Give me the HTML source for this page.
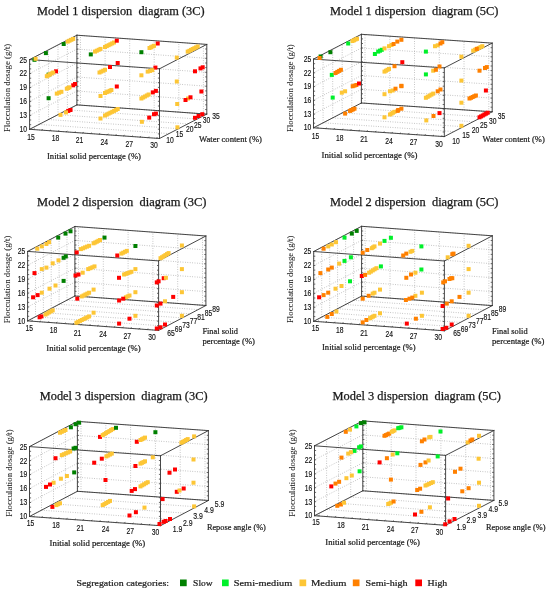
<!DOCTYPE html>
<html><head><meta charset="utf-8"><style>
html,body{margin:0;padding:0;background:#fff;}
svg{display:block;}
.gd{stroke:#8a8a8a;stroke-width:0.6;stroke-dasharray:0.8 1.6;fill:none;}
.bx{stroke:#333;stroke-width:0.9;fill:none;stroke-linecap:round;}
.tk{stroke:#444;stroke-width:0.8;fill:none;}
</style></head><body>
<svg width="550" height="593" viewBox="0 0 550 593">
<rect width="550" height="593" fill="#fff"/>
<line x1="80.5" y1="105.2" x2="80.5" y2="35.5" class="gd"/>
<line x1="105.1" y1="106.9" x2="105.1" y2="37.2" class="gd"/>
<line x1="129.7" y1="108.6" x2="129.7" y2="38.9" class="gd"/>
<line x1="154.2" y1="110.4" x2="154.2" y2="40.7" class="gd"/>
<line x1="178.8" y1="112.1" x2="178.8" y2="42.4" class="gd"/>
<line x1="203.4" y1="113.9" x2="203.4" y2="44.2" class="gd"/>
<line x1="76.9" y1="104.9" x2="206.8" y2="114.1" class="gd"/>
<line x1="76.9" y1="91.0" x2="206.8" y2="100.2" class="gd"/>
<line x1="76.9" y1="77.0" x2="206.8" y2="86.2" class="gd"/>
<line x1="76.9" y1="63.1" x2="206.8" y2="72.3" class="gd"/>
<line x1="76.9" y1="49.1" x2="206.8" y2="58.3" class="gd"/>
<line x1="76.9" y1="35.2" x2="206.8" y2="44.4" class="gd"/>
<line x1="29.6" y1="129.3" x2="29.6" y2="59.6" class="gd"/>
<line x1="39.1" y1="124.4" x2="39.1" y2="54.7" class="gd"/>
<line x1="48.5" y1="119.5" x2="48.5" y2="49.8" class="gd"/>
<line x1="58.0" y1="114.7" x2="58.0" y2="45.0" class="gd"/>
<line x1="67.4" y1="109.8" x2="67.4" y2="40.1" class="gd"/>
<line x1="76.9" y1="104.9" x2="76.9" y2="35.2" class="gd"/>
<line x1="29.6" y1="129.3" x2="76.9" y2="104.9" class="gd"/>
<line x1="29.6" y1="115.4" x2="76.9" y2="91.0" class="gd"/>
<line x1="29.6" y1="101.4" x2="76.9" y2="77.0" class="gd"/>
<line x1="29.6" y1="87.5" x2="76.9" y2="63.1" class="gd"/>
<line x1="29.6" y1="73.5" x2="76.9" y2="49.1" class="gd"/>
<line x1="29.6" y1="59.6" x2="76.9" y2="35.2" class="gd"/>
<line x1="29.6" y1="129.3" x2="159.5" y2="138.5" class="gd"/>
<line x1="39.1" y1="124.4" x2="169.0" y2="133.6" class="gd"/>
<line x1="48.5" y1="119.5" x2="178.4" y2="128.7" class="gd"/>
<line x1="58.0" y1="114.7" x2="187.9" y2="123.9" class="gd"/>
<line x1="67.4" y1="109.8" x2="197.3" y2="119.0" class="gd"/>
<line x1="76.9" y1="104.9" x2="206.8" y2="114.1" class="gd"/>
<line x1="29.6" y1="129.3" x2="29.6" y2="59.6" class="bx"/>
<line x1="76.9" y1="104.9" x2="76.9" y2="35.2" class="bx"/>
<line x1="159.5" y1="138.5" x2="159.5" y2="68.8" class="bx"/>
<line x1="206.8" y1="114.1" x2="206.8" y2="44.4" class="bx"/>
<line x1="29.6" y1="129.3" x2="76.9" y2="104.9" class="bx"/>
<line x1="29.6" y1="59.6" x2="76.9" y2="35.2" class="bx"/>
<line x1="159.5" y1="138.5" x2="206.8" y2="114.1" class="bx"/>
<line x1="159.5" y1="68.8" x2="206.8" y2="44.4" class="bx"/>
<line x1="29.6" y1="129.3" x2="159.5" y2="138.5" class="bx"/>
<line x1="29.6" y1="59.6" x2="159.5" y2="68.8" class="bx"/>
<line x1="76.9" y1="104.9" x2="206.8" y2="114.1" class="bx"/>
<line x1="76.9" y1="35.2" x2="206.8" y2="44.4" class="bx"/>
<line x1="33.2" y1="129.6" x2="34.6" y2="128.8" class="tk"/>
<line x1="41.4" y1="130.1" x2="42.8" y2="129.4" class="tk"/>
<line x1="49.6" y1="130.7" x2="51.0" y2="130.0" class="tk"/>
<line x1="57.8" y1="131.3" x2="59.2" y2="130.6" class="tk"/>
<line x1="66.0" y1="131.9" x2="67.4" y2="131.1" class="tk"/>
<line x1="74.2" y1="132.5" x2="75.6" y2="131.7" class="tk"/>
<line x1="82.4" y1="133.0" x2="83.8" y2="132.3" class="tk"/>
<line x1="90.6" y1="133.6" x2="92.0" y2="132.9" class="tk"/>
<line x1="98.7" y1="134.2" x2="100.2" y2="133.5" class="tk"/>
<line x1="106.9" y1="134.8" x2="108.4" y2="134.0" class="tk"/>
<line x1="115.1" y1="135.4" x2="116.6" y2="134.6" class="tk"/>
<line x1="123.3" y1="135.9" x2="124.7" y2="135.2" class="tk"/>
<line x1="131.5" y1="136.5" x2="132.9" y2="135.8" class="tk"/>
<line x1="139.7" y1="137.1" x2="141.1" y2="136.4" class="tk"/>
<line x1="147.9" y1="137.7" x2="149.3" y2="136.9" class="tk"/>
<line x1="156.1" y1="138.3" x2="157.5" y2="137.5" class="tk"/>
<line x1="29.6" y1="124.7" x2="31.2" y2="124.7" class="tk"/>
<line x1="76.9" y1="100.3" x2="78.5" y2="100.3" class="tk"/>
<line x1="206.8" y1="109.5" x2="205.2" y2="109.5" class="tk"/>
<line x1="159.5" y1="133.9" x2="157.9" y2="133.9" class="tk"/>
<line x1="29.6" y1="120.0" x2="31.2" y2="120.0" class="tk"/>
<line x1="76.9" y1="95.6" x2="78.5" y2="95.6" class="tk"/>
<line x1="206.8" y1="104.8" x2="205.2" y2="104.8" class="tk"/>
<line x1="159.5" y1="129.2" x2="157.9" y2="129.2" class="tk"/>
<line x1="29.6" y1="115.4" x2="31.2" y2="115.4" class="tk"/>
<line x1="76.9" y1="91.0" x2="78.5" y2="91.0" class="tk"/>
<line x1="206.8" y1="100.2" x2="205.2" y2="100.2" class="tk"/>
<line x1="159.5" y1="124.6" x2="157.9" y2="124.6" class="tk"/>
<line x1="29.6" y1="110.7" x2="31.2" y2="110.7" class="tk"/>
<line x1="76.9" y1="86.3" x2="78.5" y2="86.3" class="tk"/>
<line x1="206.8" y1="95.5" x2="205.2" y2="95.5" class="tk"/>
<line x1="159.5" y1="119.9" x2="157.9" y2="119.9" class="tk"/>
<line x1="29.6" y1="106.1" x2="31.2" y2="106.1" class="tk"/>
<line x1="76.9" y1="81.7" x2="78.5" y2="81.7" class="tk"/>
<line x1="206.8" y1="90.9" x2="205.2" y2="90.9" class="tk"/>
<line x1="159.5" y1="115.3" x2="157.9" y2="115.3" class="tk"/>
<line x1="29.6" y1="101.4" x2="31.2" y2="101.4" class="tk"/>
<line x1="76.9" y1="77.0" x2="78.5" y2="77.0" class="tk"/>
<line x1="206.8" y1="86.2" x2="205.2" y2="86.2" class="tk"/>
<line x1="159.5" y1="110.6" x2="157.9" y2="110.6" class="tk"/>
<line x1="29.6" y1="96.8" x2="31.2" y2="96.8" class="tk"/>
<line x1="76.9" y1="72.4" x2="78.5" y2="72.4" class="tk"/>
<line x1="206.8" y1="81.6" x2="205.2" y2="81.6" class="tk"/>
<line x1="159.5" y1="106.0" x2="157.9" y2="106.0" class="tk"/>
<line x1="29.6" y1="92.1" x2="31.2" y2="92.1" class="tk"/>
<line x1="76.9" y1="67.7" x2="78.5" y2="67.7" class="tk"/>
<line x1="206.8" y1="76.9" x2="205.2" y2="76.9" class="tk"/>
<line x1="159.5" y1="101.3" x2="157.9" y2="101.3" class="tk"/>
<line x1="29.6" y1="87.5" x2="31.2" y2="87.5" class="tk"/>
<line x1="76.9" y1="63.1" x2="78.5" y2="63.1" class="tk"/>
<line x1="206.8" y1="72.3" x2="205.2" y2="72.3" class="tk"/>
<line x1="159.5" y1="96.7" x2="157.9" y2="96.7" class="tk"/>
<line x1="29.6" y1="82.8" x2="31.2" y2="82.8" class="tk"/>
<line x1="76.9" y1="58.4" x2="78.5" y2="58.4" class="tk"/>
<line x1="206.8" y1="67.6" x2="205.2" y2="67.6" class="tk"/>
<line x1="159.5" y1="92.0" x2="157.9" y2="92.0" class="tk"/>
<line x1="29.6" y1="78.2" x2="31.2" y2="78.2" class="tk"/>
<line x1="76.9" y1="53.8" x2="78.5" y2="53.8" class="tk"/>
<line x1="206.8" y1="63.0" x2="205.2" y2="63.0" class="tk"/>
<line x1="159.5" y1="87.4" x2="157.9" y2="87.4" class="tk"/>
<line x1="29.6" y1="73.5" x2="31.2" y2="73.5" class="tk"/>
<line x1="76.9" y1="49.1" x2="78.5" y2="49.1" class="tk"/>
<line x1="206.8" y1="58.3" x2="205.2" y2="58.3" class="tk"/>
<line x1="159.5" y1="82.7" x2="157.9" y2="82.7" class="tk"/>
<line x1="29.6" y1="68.9" x2="31.2" y2="68.9" class="tk"/>
<line x1="76.9" y1="44.5" x2="78.5" y2="44.5" class="tk"/>
<line x1="206.8" y1="53.7" x2="205.2" y2="53.7" class="tk"/>
<line x1="159.5" y1="78.1" x2="157.9" y2="78.1" class="tk"/>
<line x1="29.6" y1="64.2" x2="31.2" y2="64.2" class="tk"/>
<line x1="76.9" y1="39.8" x2="78.5" y2="39.8" class="tk"/>
<line x1="206.8" y1="49.0" x2="205.2" y2="49.0" class="tk"/>
<line x1="159.5" y1="73.4" x2="157.9" y2="73.4" class="tk"/>
<rect x="32.5" y="57.8" width="4.0" height="4.0" fill="#008000"/>
<rect x="33.6" y="56.8" width="4.0" height="4.0" fill="#fdc636"/>
<rect x="43.9" y="51.1" width="4.0" height="4.0" fill="#008000"/>
<rect x="61.7" y="42.0" width="4.0" height="4.0" fill="#008000"/>
<rect x="65.7" y="39.6" width="4.0" height="4.0" fill="#fdc636"/>
<rect x="67.5" y="38.7" width="4.0" height="4.0" fill="#fdc636"/>
<rect x="69.4" y="37.8" width="4.0" height="4.0" fill="#fdc636"/>
<rect x="71.2" y="36.9" width="4.0" height="4.0" fill="#fdc636"/>
<rect x="88.8" y="52.4" width="4.0" height="4.0" fill="#008000"/>
<rect x="93.0" y="49.6" width="4.0" height="4.0" fill="#fdc636"/>
<rect x="94.8" y="48.7" width="4.0" height="4.0" fill="#fdc636"/>
<rect x="96.7" y="47.8" width="4.0" height="4.0" fill="#fdc636"/>
<rect x="98.5" y="46.9" width="4.0" height="4.0" fill="#fdc636"/>
<rect x="103.0" y="45.0" width="4.0" height="4.0" fill="#fdc636"/>
<rect x="104.8" y="44.1" width="4.0" height="4.0" fill="#fdc636"/>
<rect x="106.6" y="43.2" width="4.0" height="4.0" fill="#fdc636"/>
<rect x="108.4" y="42.3" width="4.0" height="4.0" fill="#fdc636"/>
<rect x="110.2" y="41.4" width="4.0" height="4.0" fill="#fdc636"/>
<rect x="112.0" y="40.5" width="4.0" height="4.0" fill="#fdc636"/>
<rect x="114.8" y="38.7" width="4.0" height="4.0" fill="#ff0000"/>
<rect x="115.7" y="61.0" width="4.0" height="4.0" fill="#ff0000"/>
<rect x="108.0" y="65.0" width="4.0" height="4.0" fill="#ff0000"/>
<rect x="97.5" y="70.5" width="4.0" height="4.0" fill="#fdc636"/>
<rect x="99.3" y="69.6" width="4.0" height="4.0" fill="#fdc636"/>
<rect x="101.2" y="68.7" width="4.0" height="4.0" fill="#fdc636"/>
<rect x="103.0" y="67.8" width="4.0" height="4.0" fill="#fdc636"/>
<rect x="54.0" y="69.3" width="4.0" height="4.0" fill="#ff0000"/>
<rect x="46.6" y="72.6" width="4.0" height="4.0" fill="#008000"/>
<rect x="44.8" y="74.2" width="4.0" height="4.0" fill="#fdc636"/>
<rect x="46.4" y="73.3" width="4.0" height="4.0" fill="#fdc636"/>
<rect x="48.0" y="72.3" width="4.0" height="4.0" fill="#fdc636"/>
<rect x="49.6" y="71.4" width="4.0" height="4.0" fill="#fdc636"/>
<rect x="51.2" y="70.5" width="4.0" height="4.0" fill="#fdc636"/>
<rect x="71.2" y="83.3" width="4.0" height="4.0" fill="#ff0000"/>
<rect x="73.0" y="82.0" width="4.0" height="4.0" fill="#ff0000"/>
<rect x="114.8" y="84.5" width="4.0" height="4.0" fill="#ff0000"/>
<rect x="64.8" y="86.7" width="4.0" height="4.0" fill="#fdc636"/>
<rect x="66.2" y="86.0" width="4.0" height="4.0" fill="#fdc636"/>
<rect x="67.5" y="85.3" width="4.0" height="4.0" fill="#fdc636"/>
<rect x="155.7" y="41.5" width="4.0" height="4.0" fill="#ff0000"/>
<rect x="147.5" y="46.0" width="4.0" height="4.0" fill="#fdc636"/>
<rect x="149.0" y="45.3" width="4.0" height="4.0" fill="#fdc636"/>
<rect x="150.5" y="44.5" width="4.0" height="4.0" fill="#fdc636"/>
<rect x="152.0" y="43.8" width="4.0" height="4.0" fill="#fdc636"/>
<rect x="139.4" y="50.2" width="4.0" height="4.0" fill="#008000"/>
<rect x="185.7" y="49.6" width="4.0" height="4.0" fill="#fdc636"/>
<rect x="187.4" y="48.8" width="4.0" height="4.0" fill="#fdc636"/>
<rect x="189.0" y="47.9" width="4.0" height="4.0" fill="#fdc636"/>
<rect x="190.7" y="47.0" width="4.0" height="4.0" fill="#fdc636"/>
<rect x="192.4" y="46.2" width="4.0" height="4.0" fill="#fdc636"/>
<rect x="194.0" y="45.4" width="4.0" height="4.0" fill="#fdc636"/>
<rect x="195.7" y="44.5" width="4.0" height="4.0" fill="#fdc636"/>
<rect x="174.8" y="55.6" width="4.0" height="4.0" fill="#fdc636"/>
<rect x="153.4" y="65.6" width="4.0" height="4.0" fill="#ff0000"/>
<rect x="145.7" y="69.6" width="4.0" height="4.0" fill="#fdc636"/>
<rect x="148.0" y="68.9" width="4.0" height="4.0" fill="#fdc636"/>
<rect x="150.3" y="68.2" width="4.0" height="4.0" fill="#fdc636"/>
<rect x="139.4" y="73.3" width="4.0" height="4.0" fill="#fdc636"/>
<rect x="193.0" y="69.3" width="4.0" height="4.0" fill="#ff0000"/>
<rect x="198.5" y="66.4" width="4.0" height="4.0" fill="#ff0000"/>
<rect x="200.7" y="65.3" width="4.0" height="4.0" fill="#ff0000"/>
<rect x="174.8" y="79.5" width="4.0" height="4.0" fill="#fdc636"/>
<rect x="54.8" y="91.6" width="4.0" height="4.0" fill="#fdc636"/>
<rect x="57.1" y="90.7" width="4.0" height="4.0" fill="#fdc636"/>
<rect x="59.4" y="89.8" width="4.0" height="4.0" fill="#fdc636"/>
<rect x="46.6" y="96.2" width="4.0" height="4.0" fill="#008000"/>
<rect x="103.0" y="91.0" width="4.0" height="4.0" fill="#fdc636"/>
<rect x="104.6" y="90.2" width="4.0" height="4.0" fill="#fdc636"/>
<rect x="106.2" y="89.5" width="4.0" height="4.0" fill="#fdc636"/>
<rect x="107.8" y="88.8" width="4.0" height="4.0" fill="#fdc636"/>
<rect x="109.4" y="88.0" width="4.0" height="4.0" fill="#fdc636"/>
<rect x="98.5" y="94.0" width="4.0" height="4.0" fill="#fdc636"/>
<rect x="66.3" y="108.9" width="4.0" height="4.0" fill="#ff0000"/>
<rect x="68.5" y="108.0" width="4.0" height="4.0" fill="#ff0000"/>
<rect x="64.0" y="110.4" width="4.0" height="4.0" fill="#fdc636"/>
<rect x="58.5" y="112.9" width="4.0" height="4.0" fill="#fdc636"/>
<rect x="103.0" y="113.5" width="4.0" height="4.0" fill="#fdc636"/>
<rect x="104.8" y="112.6" width="4.0" height="4.0" fill="#fdc636"/>
<rect x="106.6" y="111.6" width="4.0" height="4.0" fill="#fdc636"/>
<rect x="108.4" y="110.7" width="4.0" height="4.0" fill="#fdc636"/>
<rect x="110.3" y="109.8" width="4.0" height="4.0" fill="#fdc636"/>
<rect x="112.1" y="108.9" width="4.0" height="4.0" fill="#fdc636"/>
<rect x="113.9" y="107.9" width="4.0" height="4.0" fill="#fdc636"/>
<rect x="115.7" y="107.0" width="4.0" height="4.0" fill="#fdc636"/>
<rect x="98.5" y="116.5" width="4.0" height="4.0" fill="#fdc636"/>
<rect x="150.8" y="90.4" width="4.0" height="4.0" fill="#ff0000"/>
<rect x="153.9" y="88.9" width="4.0" height="4.0" fill="#ff0000"/>
<rect x="139.4" y="96.5" width="4.0" height="4.0" fill="#fdc636"/>
<rect x="141.2" y="95.5" width="4.0" height="4.0" fill="#fdc636"/>
<rect x="143.0" y="94.5" width="4.0" height="4.0" fill="#fdc636"/>
<rect x="144.8" y="93.5" width="4.0" height="4.0" fill="#fdc636"/>
<rect x="146.6" y="92.5" width="4.0" height="4.0" fill="#fdc636"/>
<rect x="199.4" y="89.5" width="4.0" height="4.0" fill="#ff0000"/>
<rect x="186.0" y="96.5" width="4.0" height="4.0" fill="#fdc636"/>
<rect x="183.5" y="98.0" width="4.0" height="4.0" fill="#ff0000"/>
<rect x="188.5" y="95.3" width="4.0" height="4.0" fill="#ff0000"/>
<rect x="175.2" y="102.0" width="4.0" height="4.0" fill="#fdc636"/>
<rect x="152.0" y="112.2" width="4.0" height="4.0" fill="#ff0000"/>
<rect x="153.9" y="111.6" width="4.0" height="4.0" fill="#ff0000"/>
<rect x="147.2" y="115.6" width="4.0" height="4.0" fill="#ff0000"/>
<rect x="139.9" y="119.8" width="4.0" height="4.0" fill="#fdc636"/>
<rect x="193.0" y="115.8" width="4.0" height="4.0" fill="#ff0000"/>
<rect x="196.6" y="114.0" width="4.0" height="4.0" fill="#ff0000"/>
<rect x="200.3" y="112.2" width="4.0" height="4.0" fill="#ff0000"/>
<rect x="175.4" y="125.3" width="4.0" height="4.0" fill="#fdc636"/>
<text x="23.3" y="62.5" font-size="8.3" font-family="'Liberation Sans', sans-serif" text-anchor="middle" textLength="7.5" lengthAdjust="spacingAndGlyphs" fill="#111" stroke="#111" stroke-width="0.15">25</text>
<text x="23.3" y="76.4" font-size="8.3" font-family="'Liberation Sans', sans-serif" text-anchor="middle" textLength="7.5" lengthAdjust="spacingAndGlyphs" fill="#111" stroke="#111" stroke-width="0.15">22</text>
<text x="23.3" y="90.3" font-size="8.3" font-family="'Liberation Sans', sans-serif" text-anchor="middle" textLength="7.5" lengthAdjust="spacingAndGlyphs" fill="#111" stroke="#111" stroke-width="0.15">19</text>
<text x="23.3" y="104.1" font-size="8.3" font-family="'Liberation Sans', sans-serif" text-anchor="middle" textLength="7.5" lengthAdjust="spacingAndGlyphs" fill="#111" stroke="#111" stroke-width="0.15">16</text>
<text x="23.3" y="118.0" font-size="8.3" font-family="'Liberation Sans', sans-serif" text-anchor="middle" textLength="7.5" lengthAdjust="spacingAndGlyphs" fill="#111" stroke="#111" stroke-width="0.15">13</text>
<text x="23.3" y="131.9" font-size="8.3" font-family="'Liberation Sans', sans-serif" text-anchor="middle" textLength="7.5" lengthAdjust="spacingAndGlyphs" fill="#111" stroke="#111" stroke-width="0.15">10</text>
<text x="31.0" y="139.6" font-size="8.3" font-family="'Liberation Sans', sans-serif" text-anchor="middle" textLength="7.5" lengthAdjust="spacingAndGlyphs" fill="#111" stroke="#111" stroke-width="0.15">15</text>
<text x="55.5" y="141.4" font-size="8.3" font-family="'Liberation Sans', sans-serif" text-anchor="middle" textLength="7.5" lengthAdjust="spacingAndGlyphs" fill="#111" stroke="#111" stroke-width="0.15">18</text>
<text x="79.6" y="143.4" font-size="8.3" font-family="'Liberation Sans', sans-serif" text-anchor="middle" textLength="7.5" lengthAdjust="spacingAndGlyphs" fill="#111" stroke="#111" stroke-width="0.15">21</text>
<text x="104.3" y="145.2" font-size="8.3" font-family="'Liberation Sans', sans-serif" text-anchor="middle" textLength="7.5" lengthAdjust="spacingAndGlyphs" fill="#111" stroke="#111" stroke-width="0.15">24</text>
<text x="129.3" y="146.7" font-size="8.3" font-family="'Liberation Sans', sans-serif" text-anchor="middle" textLength="7.5" lengthAdjust="spacingAndGlyphs" fill="#111" stroke="#111" stroke-width="0.15">27</text>
<text x="154.0" y="147.9" font-size="8.3" font-family="'Liberation Sans', sans-serif" text-anchor="middle" textLength="7.5" lengthAdjust="spacingAndGlyphs" fill="#111" stroke="#111" stroke-width="0.15">30</text>
<text x="170.0" y="143.4" font-size="8.3" font-family="'Liberation Sans', sans-serif" text-anchor="middle" textLength="7.5" lengthAdjust="spacingAndGlyphs" fill="#111" stroke="#111" stroke-width="0.15">10</text>
<text x="179.5" y="137.4" font-size="8.3" font-family="'Liberation Sans', sans-serif" text-anchor="middle" textLength="7.5" lengthAdjust="spacingAndGlyphs" fill="#111" stroke="#111" stroke-width="0.15">15</text>
<text x="189.8" y="131.9" font-size="8.3" font-family="'Liberation Sans', sans-serif" text-anchor="middle" textLength="7.5" lengthAdjust="spacingAndGlyphs" fill="#111" stroke="#111" stroke-width="0.15">20</text>
<text x="197.7" y="127.9" font-size="8.3" font-family="'Liberation Sans', sans-serif" text-anchor="middle" textLength="7.5" lengthAdjust="spacingAndGlyphs" fill="#111" stroke="#111" stroke-width="0.15">25</text>
<text x="206.4" y="123.4" font-size="8.3" font-family="'Liberation Sans', sans-serif" text-anchor="middle" textLength="7.5" lengthAdjust="spacingAndGlyphs" fill="#111" stroke="#111" stroke-width="0.15">30</text>
<text x="216.0" y="118.9" font-size="8.3" font-family="'Liberation Sans', sans-serif" text-anchor="middle" textLength="7.5" lengthAdjust="spacingAndGlyphs" fill="#111" stroke="#111" stroke-width="0.15">35</text>
<text x="37.0" y="14.9" font-size="11.5" font-family="'Liberation Serif', serif" textLength="167.5" lengthAdjust="spacingAndGlyphs" fill="#1a1a1a" stroke="#1a1a1a" stroke-width="0.25">Model 1 dispersion&#160; diagram (3C)</text>
<text x="47.0" y="159.0" font-size="9" font-family="'Liberation Serif', serif" textLength="94.0" lengthAdjust="spacingAndGlyphs" fill="#1a1a1a" stroke="#1a1a1a" stroke-width="0.22">Initial solid percentage (%)</text>
<text x="199.0" y="141.9" font-size="9" font-family="'Liberation Serif', serif" textLength="63.0" lengthAdjust="spacingAndGlyphs" fill="#1a1a1a" stroke="#1a1a1a" stroke-width="0.22">Water content (%)</text>
<text transform="translate(9.9,132) rotate(-90)" font-size="8.0" font-family="'Liberation Serif', serif" textLength="88.3" lengthAdjust="spacingAndGlyphs" fill="#1a1a1a" stroke="#1a1a1a" stroke-width="0.05">Flocculation dosage (g/t)</text>
<line x1="365.0" y1="103.2" x2="365.0" y2="34.5" class="gd"/>
<line x1="389.8" y1="104.9" x2="389.8" y2="36.2" class="gd"/>
<line x1="414.5" y1="106.6" x2="414.5" y2="37.9" class="gd"/>
<line x1="439.3" y1="108.2" x2="439.3" y2="39.5" class="gd"/>
<line x1="464.0" y1="109.9" x2="464.0" y2="41.2" class="gd"/>
<line x1="488.8" y1="111.6" x2="488.8" y2="42.9" class="gd"/>
<line x1="361.4" y1="103.0" x2="492.2" y2="111.8" class="gd"/>
<line x1="361.4" y1="89.3" x2="492.2" y2="98.1" class="gd"/>
<line x1="361.4" y1="75.5" x2="492.2" y2="84.3" class="gd"/>
<line x1="361.4" y1="61.8" x2="492.2" y2="70.6" class="gd"/>
<line x1="361.4" y1="48.0" x2="492.2" y2="56.8" class="gd"/>
<line x1="361.4" y1="34.3" x2="492.2" y2="43.1" class="gd"/>
<line x1="313.5" y1="127.8" x2="313.5" y2="59.1" class="gd"/>
<line x1="323.1" y1="122.8" x2="323.1" y2="54.1" class="gd"/>
<line x1="332.7" y1="117.9" x2="332.7" y2="49.2" class="gd"/>
<line x1="342.2" y1="112.9" x2="342.2" y2="44.2" class="gd"/>
<line x1="351.8" y1="108.0" x2="351.8" y2="39.3" class="gd"/>
<line x1="361.4" y1="103.0" x2="361.4" y2="34.3" class="gd"/>
<line x1="313.5" y1="127.8" x2="361.4" y2="103.0" class="gd"/>
<line x1="313.5" y1="114.1" x2="361.4" y2="89.3" class="gd"/>
<line x1="313.5" y1="100.3" x2="361.4" y2="75.5" class="gd"/>
<line x1="313.5" y1="86.6" x2="361.4" y2="61.8" class="gd"/>
<line x1="313.5" y1="72.8" x2="361.4" y2="48.0" class="gd"/>
<line x1="313.5" y1="59.1" x2="361.4" y2="34.3" class="gd"/>
<line x1="313.5" y1="127.8" x2="444.3" y2="136.6" class="gd"/>
<line x1="323.1" y1="122.8" x2="453.9" y2="131.6" class="gd"/>
<line x1="332.7" y1="117.9" x2="463.5" y2="126.7" class="gd"/>
<line x1="342.2" y1="112.9" x2="473.0" y2="121.7" class="gd"/>
<line x1="351.8" y1="108.0" x2="482.6" y2="116.8" class="gd"/>
<line x1="361.4" y1="103.0" x2="492.2" y2="111.8" class="gd"/>
<line x1="313.5" y1="127.8" x2="313.5" y2="59.1" class="bx"/>
<line x1="361.4" y1="103.0" x2="361.4" y2="34.3" class="bx"/>
<line x1="444.3" y1="136.6" x2="444.3" y2="67.9" class="bx"/>
<line x1="492.2" y1="111.8" x2="492.2" y2="43.1" class="bx"/>
<line x1="313.5" y1="127.8" x2="361.4" y2="103.0" class="bx"/>
<line x1="313.5" y1="59.1" x2="361.4" y2="34.3" class="bx"/>
<line x1="444.3" y1="136.6" x2="492.2" y2="111.8" class="bx"/>
<line x1="444.3" y1="67.9" x2="492.2" y2="43.1" class="bx"/>
<line x1="313.5" y1="127.8" x2="444.3" y2="136.6" class="bx"/>
<line x1="313.5" y1="59.1" x2="444.3" y2="67.9" class="bx"/>
<line x1="361.4" y1="103.0" x2="492.2" y2="111.8" class="bx"/>
<line x1="361.4" y1="34.3" x2="492.2" y2="43.1" class="bx"/>
<line x1="317.1" y1="128.0" x2="318.5" y2="127.3" class="tk"/>
<line x1="325.4" y1="128.6" x2="326.8" y2="127.9" class="tk"/>
<line x1="333.6" y1="129.2" x2="335.0" y2="128.4" class="tk"/>
<line x1="341.9" y1="129.7" x2="343.3" y2="129.0" class="tk"/>
<line x1="350.1" y1="130.3" x2="351.5" y2="129.5" class="tk"/>
<line x1="358.4" y1="130.8" x2="359.8" y2="130.1" class="tk"/>
<line x1="366.6" y1="131.4" x2="368.0" y2="130.6" class="tk"/>
<line x1="374.9" y1="131.9" x2="376.3" y2="131.2" class="tk"/>
<line x1="383.1" y1="132.5" x2="384.5" y2="131.7" class="tk"/>
<line x1="391.4" y1="133.0" x2="392.8" y2="132.3" class="tk"/>
<line x1="399.6" y1="133.6" x2="401.0" y2="132.9" class="tk"/>
<line x1="407.9" y1="134.1" x2="409.3" y2="133.4" class="tk"/>
<line x1="416.1" y1="134.7" x2="417.5" y2="134.0" class="tk"/>
<line x1="424.4" y1="135.3" x2="425.8" y2="134.5" class="tk"/>
<line x1="432.6" y1="135.8" x2="434.0" y2="135.1" class="tk"/>
<line x1="440.9" y1="136.4" x2="442.3" y2="135.6" class="tk"/>
<line x1="313.5" y1="123.2" x2="315.1" y2="123.2" class="tk"/>
<line x1="361.4" y1="98.4" x2="363.0" y2="98.4" class="tk"/>
<line x1="492.2" y1="107.2" x2="490.6" y2="107.2" class="tk"/>
<line x1="444.3" y1="132.0" x2="442.7" y2="132.0" class="tk"/>
<line x1="313.5" y1="118.6" x2="315.1" y2="118.6" class="tk"/>
<line x1="361.4" y1="93.8" x2="363.0" y2="93.8" class="tk"/>
<line x1="492.2" y1="102.6" x2="490.6" y2="102.6" class="tk"/>
<line x1="444.3" y1="127.4" x2="442.7" y2="127.4" class="tk"/>
<line x1="313.5" y1="114.1" x2="315.1" y2="114.1" class="tk"/>
<line x1="361.4" y1="89.3" x2="363.0" y2="89.3" class="tk"/>
<line x1="492.2" y1="98.1" x2="490.6" y2="98.1" class="tk"/>
<line x1="444.3" y1="122.9" x2="442.7" y2="122.9" class="tk"/>
<line x1="313.5" y1="109.5" x2="315.1" y2="109.5" class="tk"/>
<line x1="361.4" y1="84.7" x2="363.0" y2="84.7" class="tk"/>
<line x1="492.2" y1="93.5" x2="490.6" y2="93.5" class="tk"/>
<line x1="444.3" y1="118.3" x2="442.7" y2="118.3" class="tk"/>
<line x1="313.5" y1="104.9" x2="315.1" y2="104.9" class="tk"/>
<line x1="361.4" y1="80.1" x2="363.0" y2="80.1" class="tk"/>
<line x1="492.2" y1="88.9" x2="490.6" y2="88.9" class="tk"/>
<line x1="444.3" y1="113.7" x2="442.7" y2="113.7" class="tk"/>
<line x1="313.5" y1="100.3" x2="315.1" y2="100.3" class="tk"/>
<line x1="361.4" y1="75.5" x2="363.0" y2="75.5" class="tk"/>
<line x1="492.2" y1="84.3" x2="490.6" y2="84.3" class="tk"/>
<line x1="444.3" y1="109.1" x2="442.7" y2="109.1" class="tk"/>
<line x1="313.5" y1="95.7" x2="315.1" y2="95.7" class="tk"/>
<line x1="361.4" y1="70.9" x2="363.0" y2="70.9" class="tk"/>
<line x1="492.2" y1="79.7" x2="490.6" y2="79.7" class="tk"/>
<line x1="444.3" y1="104.5" x2="442.7" y2="104.5" class="tk"/>
<line x1="313.5" y1="91.2" x2="315.1" y2="91.2" class="tk"/>
<line x1="361.4" y1="66.4" x2="363.0" y2="66.4" class="tk"/>
<line x1="492.2" y1="75.2" x2="490.6" y2="75.2" class="tk"/>
<line x1="444.3" y1="100.0" x2="442.7" y2="100.0" class="tk"/>
<line x1="313.5" y1="86.6" x2="315.1" y2="86.6" class="tk"/>
<line x1="361.4" y1="61.8" x2="363.0" y2="61.8" class="tk"/>
<line x1="492.2" y1="70.6" x2="490.6" y2="70.6" class="tk"/>
<line x1="444.3" y1="95.4" x2="442.7" y2="95.4" class="tk"/>
<line x1="313.5" y1="82.0" x2="315.1" y2="82.0" class="tk"/>
<line x1="361.4" y1="57.2" x2="363.0" y2="57.2" class="tk"/>
<line x1="492.2" y1="66.0" x2="490.6" y2="66.0" class="tk"/>
<line x1="444.3" y1="90.8" x2="442.7" y2="90.8" class="tk"/>
<line x1="313.5" y1="77.4" x2="315.1" y2="77.4" class="tk"/>
<line x1="361.4" y1="52.6" x2="363.0" y2="52.6" class="tk"/>
<line x1="492.2" y1="61.4" x2="490.6" y2="61.4" class="tk"/>
<line x1="444.3" y1="86.2" x2="442.7" y2="86.2" class="tk"/>
<line x1="313.5" y1="72.8" x2="315.1" y2="72.8" class="tk"/>
<line x1="361.4" y1="48.0" x2="363.0" y2="48.0" class="tk"/>
<line x1="492.2" y1="56.8" x2="490.6" y2="56.8" class="tk"/>
<line x1="444.3" y1="81.6" x2="442.7" y2="81.6" class="tk"/>
<line x1="313.5" y1="68.3" x2="315.1" y2="68.3" class="tk"/>
<line x1="361.4" y1="43.5" x2="363.0" y2="43.5" class="tk"/>
<line x1="492.2" y1="52.3" x2="490.6" y2="52.3" class="tk"/>
<line x1="444.3" y1="77.1" x2="442.7" y2="77.1" class="tk"/>
<line x1="313.5" y1="63.7" x2="315.1" y2="63.7" class="tk"/>
<line x1="361.4" y1="38.9" x2="363.0" y2="38.9" class="tk"/>
<line x1="492.2" y1="47.7" x2="490.6" y2="47.7" class="tk"/>
<line x1="444.3" y1="72.5" x2="442.7" y2="72.5" class="tk"/>
<rect x="318.6" y="54.5" width="4.0" height="4.0" fill="#008000"/>
<rect x="317.6" y="56.0" width="4.0" height="4.0" fill="#ff8000"/>
<rect x="328.4" y="50.2" width="4.0" height="4.0" fill="#008000"/>
<rect x="346.2" y="41.5" width="4.0" height="4.0" fill="#00f02a"/>
<rect x="350.5" y="39.0" width="4.0" height="4.0" fill="#fdc636"/>
<rect x="352.0" y="38.3" width="4.0" height="4.0" fill="#fdc636"/>
<rect x="353.5" y="37.5" width="4.0" height="4.0" fill="#fdc636"/>
<rect x="355.0" y="36.8" width="4.0" height="4.0" fill="#fdc636"/>
<rect x="372.9" y="52.0" width="4.0" height="4.0" fill="#00f02a"/>
<rect x="376.2" y="49.6" width="4.0" height="4.0" fill="#00f02a"/>
<rect x="378.0" y="48.7" width="4.0" height="4.0" fill="#00f02a"/>
<rect x="379.8" y="47.8" width="4.0" height="4.0" fill="#00f02a"/>
<rect x="382.5" y="46.4" width="4.0" height="4.0" fill="#fdc636"/>
<rect x="387.0" y="44.2" width="4.0" height="4.0" fill="#fdc636"/>
<rect x="389.5" y="43.0" width="4.0" height="4.0" fill="#fdc636"/>
<rect x="391.6" y="42.0" width="4.0" height="4.0" fill="#ff8000"/>
<rect x="395.3" y="39.6" width="4.0" height="4.0" fill="#ff8000"/>
<rect x="392.5" y="64.2" width="4.0" height="4.0" fill="#ff8000"/>
<rect x="382.5" y="69.6" width="4.0" height="4.0" fill="#fdc636"/>
<rect x="384.0" y="68.7" width="4.0" height="4.0" fill="#fdc636"/>
<rect x="385.5" y="67.8" width="4.0" height="4.0" fill="#fdc636"/>
<rect x="387.0" y="66.9" width="4.0" height="4.0" fill="#fdc636"/>
<rect x="329.8" y="72.9" width="4.0" height="4.0" fill="#00f02a"/>
<rect x="333.5" y="71.0" width="4.0" height="4.0" fill="#ff8000"/>
<rect x="335.3" y="69.9" width="4.0" height="4.0" fill="#ff8000"/>
<rect x="337.1" y="68.9" width="4.0" height="4.0" fill="#ff8000"/>
<rect x="338.9" y="67.8" width="4.0" height="4.0" fill="#ff8000"/>
<rect x="350.7" y="84.2" width="4.0" height="4.0" fill="#ff8000"/>
<rect x="352.5" y="83.6" width="4.0" height="4.0" fill="#ff8000"/>
<rect x="354.4" y="83.0" width="4.0" height="4.0" fill="#ff8000"/>
<rect x="357.0" y="81.5" width="4.0" height="4.0" fill="#ff0000"/>
<rect x="399.4" y="37.8" width="4.0" height="4.0" fill="#ff8000"/>
<rect x="433.0" y="44.2" width="4.0" height="4.0" fill="#fdc636"/>
<rect x="435.7" y="43.3" width="4.0" height="4.0" fill="#fdc636"/>
<rect x="438.5" y="41.5" width="4.0" height="4.0" fill="#ff8000"/>
<rect x="440.3" y="40.2" width="4.0" height="4.0" fill="#ff8000"/>
<rect x="423.9" y="49.6" width="4.0" height="4.0" fill="#00f02a"/>
<rect x="471.2" y="48.7" width="4.0" height="4.0" fill="#fdc636"/>
<rect x="473.0" y="47.8" width="4.0" height="4.0" fill="#fdc636"/>
<rect x="474.8" y="46.9" width="4.0" height="4.0" fill="#fdc636"/>
<rect x="476.7" y="46.0" width="4.0" height="4.0" fill="#fdc636"/>
<rect x="478.5" y="45.1" width="4.0" height="4.0" fill="#fdc636"/>
<rect x="480.3" y="44.2" width="4.0" height="4.0" fill="#fdc636"/>
<rect x="474.8" y="46.9" width="4.0" height="4.0" fill="#ff8000"/>
<rect x="459.4" y="54.7" width="4.0" height="4.0" fill="#fdc636"/>
<rect x="400.3" y="60.2" width="4.0" height="4.0" fill="#ff0000"/>
<rect x="437.5" y="64.5" width="4.0" height="4.0" fill="#ff8000"/>
<rect x="431.2" y="68.7" width="4.0" height="4.0" fill="#fdc636"/>
<rect x="433.9" y="67.8" width="4.0" height="4.0" fill="#ff8000"/>
<rect x="423.9" y="72.4" width="4.0" height="4.0" fill="#00f02a"/>
<rect x="477.5" y="68.7" width="4.0" height="4.0" fill="#ff8000"/>
<rect x="483.0" y="66.0" width="4.0" height="4.0" fill="#ff8000"/>
<rect x="484.8" y="65.1" width="4.0" height="4.0" fill="#ff8000"/>
<rect x="459.4" y="78.6" width="4.0" height="4.0" fill="#fdc636"/>
<rect x="399.4" y="84.2" width="4.0" height="4.0" fill="#ff8000"/>
<rect x="339.8" y="90.7" width="4.0" height="4.0" fill="#fdc636"/>
<rect x="343.1" y="89.3" width="4.0" height="4.0" fill="#fdc636"/>
<rect x="330.7" y="95.6" width="4.0" height="4.0" fill="#00f02a"/>
<rect x="382.5" y="92.2" width="4.0" height="4.0" fill="#fdc636"/>
<rect x="388.0" y="89.3" width="4.0" height="4.0" fill="#fdc636"/>
<rect x="390.7" y="88.5" width="4.0" height="4.0" fill="#fdc636"/>
<rect x="393.5" y="86.7" width="4.0" height="4.0" fill="#ff8000"/>
<rect x="343.1" y="111.6" width="4.0" height="4.0" fill="#ff8000"/>
<rect x="348.0" y="108.9" width="4.0" height="4.0" fill="#ff8000"/>
<rect x="349.5" y="108.2" width="4.0" height="4.0" fill="#ff8000"/>
<rect x="351.0" y="107.4" width="4.0" height="4.0" fill="#ff8000"/>
<rect x="352.5" y="106.7" width="4.0" height="4.0" fill="#ff8000"/>
<rect x="382.5" y="115.3" width="4.0" height="4.0" fill="#fdc636"/>
<rect x="388.0" y="112.5" width="4.0" height="4.0" fill="#fdc636"/>
<rect x="389.5" y="111.6" width="4.0" height="4.0" fill="#fdc636"/>
<rect x="391.0" y="110.7" width="4.0" height="4.0" fill="#fdc636"/>
<rect x="392.5" y="109.8" width="4.0" height="4.0" fill="#fdc636"/>
<rect x="396.2" y="108.0" width="4.0" height="4.0" fill="#ff8000"/>
<rect x="399.4" y="83.8" width="4.0" height="4.0" fill="#ff8000"/>
<rect x="423.9" y="95.8" width="4.0" height="4.0" fill="#fdc636"/>
<rect x="425.7" y="94.8" width="4.0" height="4.0" fill="#fdc636"/>
<rect x="427.5" y="93.7" width="4.0" height="4.0" fill="#fdc636"/>
<rect x="429.4" y="92.6" width="4.0" height="4.0" fill="#fdc636"/>
<rect x="431.2" y="91.6" width="4.0" height="4.0" fill="#fdc636"/>
<rect x="435.7" y="89.3" width="4.0" height="4.0" fill="#ff8000"/>
<rect x="438.5" y="87.5" width="4.0" height="4.0" fill="#ff8000"/>
<rect x="483.9" y="88.5" width="4.0" height="4.0" fill="#ff0000"/>
<rect x="467.5" y="96.5" width="4.0" height="4.0" fill="#ff8000"/>
<rect x="469.1" y="95.8" width="4.0" height="4.0" fill="#ff8000"/>
<rect x="470.7" y="95.0" width="4.0" height="4.0" fill="#ff8000"/>
<rect x="472.3" y="94.2" width="4.0" height="4.0" fill="#ff8000"/>
<rect x="473.9" y="93.5" width="4.0" height="4.0" fill="#ff8000"/>
<rect x="459.4" y="100.7" width="4.0" height="4.0" fill="#fdc636"/>
<rect x="395.7" y="108.9" width="4.0" height="4.0" fill="#ff8000"/>
<rect x="399.4" y="106.7" width="4.0" height="4.0" fill="#ff8000"/>
<rect x="431.5" y="114.0" width="4.0" height="4.0" fill="#ff8000"/>
<rect x="437.5" y="111.1" width="4.0" height="4.0" fill="#ff0000"/>
<rect x="424.3" y="118.4" width="4.0" height="4.0" fill="#fdc636"/>
<rect x="477.5" y="115.3" width="4.0" height="4.0" fill="#ff0000"/>
<rect x="479.1" y="114.4" width="4.0" height="4.0" fill="#ff0000"/>
<rect x="480.8" y="113.5" width="4.0" height="4.0" fill="#ff0000"/>
<rect x="482.4" y="112.5" width="4.0" height="4.0" fill="#ff0000"/>
<rect x="484.1" y="111.6" width="4.0" height="4.0" fill="#ff0000"/>
<rect x="485.7" y="110.7" width="4.0" height="4.0" fill="#ff0000"/>
<rect x="459.4" y="123.8" width="4.0" height="4.0" fill="#fdc636"/>
<text x="307.5" y="61.8" font-size="8.3" font-family="'Liberation Sans', sans-serif" text-anchor="middle" textLength="7.5" lengthAdjust="spacingAndGlyphs" fill="#111" stroke="#111" stroke-width="0.15">25</text>
<text x="307.5" y="75.5" font-size="8.3" font-family="'Liberation Sans', sans-serif" text-anchor="middle" textLength="7.5" lengthAdjust="spacingAndGlyphs" fill="#111" stroke="#111" stroke-width="0.15">22</text>
<text x="307.5" y="89.2" font-size="8.3" font-family="'Liberation Sans', sans-serif" text-anchor="middle" textLength="7.5" lengthAdjust="spacingAndGlyphs" fill="#111" stroke="#111" stroke-width="0.15">19</text>
<text x="307.5" y="103.0" font-size="8.3" font-family="'Liberation Sans', sans-serif" text-anchor="middle" textLength="7.5" lengthAdjust="spacingAndGlyphs" fill="#111" stroke="#111" stroke-width="0.15">16</text>
<text x="307.5" y="116.7" font-size="8.3" font-family="'Liberation Sans', sans-serif" text-anchor="middle" textLength="7.5" lengthAdjust="spacingAndGlyphs" fill="#111" stroke="#111" stroke-width="0.15">13</text>
<text x="307.5" y="130.4" font-size="8.3" font-family="'Liberation Sans', sans-serif" text-anchor="middle" textLength="7.5" lengthAdjust="spacingAndGlyphs" fill="#111" stroke="#111" stroke-width="0.15">10</text>
<text x="315.6" y="138.5" font-size="8.3" font-family="'Liberation Sans', sans-serif" text-anchor="middle" textLength="7.5" lengthAdjust="spacingAndGlyphs" fill="#111" stroke="#111" stroke-width="0.15">15</text>
<text x="339.8" y="140.6" font-size="8.3" font-family="'Liberation Sans', sans-serif" text-anchor="middle" textLength="7.5" lengthAdjust="spacingAndGlyphs" fill="#111" stroke="#111" stroke-width="0.15">18</text>
<text x="364.0" y="142.3" font-size="8.3" font-family="'Liberation Sans', sans-serif" text-anchor="middle" textLength="7.5" lengthAdjust="spacingAndGlyphs" fill="#111" stroke="#111" stroke-width="0.15">21</text>
<text x="388.9" y="143.6" font-size="8.3" font-family="'Liberation Sans', sans-serif" text-anchor="middle" textLength="7.5" lengthAdjust="spacingAndGlyphs" fill="#111" stroke="#111" stroke-width="0.15">24</text>
<text x="413.6" y="145.4" font-size="8.3" font-family="'Liberation Sans', sans-serif" text-anchor="middle" textLength="7.5" lengthAdjust="spacingAndGlyphs" fill="#111" stroke="#111" stroke-width="0.15">27</text>
<text x="438.9" y="146.6" font-size="8.3" font-family="'Liberation Sans', sans-serif" text-anchor="middle" textLength="7.5" lengthAdjust="spacingAndGlyphs" fill="#111" stroke="#111" stroke-width="0.15">30</text>
<text x="455.9" y="143.6" font-size="8.3" font-family="'Liberation Sans', sans-serif" text-anchor="middle" textLength="7.5" lengthAdjust="spacingAndGlyphs" fill="#111" stroke="#111" stroke-width="0.15">10</text>
<text x="466.1" y="137.9" font-size="8.3" font-family="'Liberation Sans', sans-serif" text-anchor="middle" textLength="7.5" lengthAdjust="spacingAndGlyphs" fill="#111" stroke="#111" stroke-width="0.15">15</text>
<text x="475.6" y="132.5" font-size="8.3" font-family="'Liberation Sans', sans-serif" text-anchor="middle" textLength="7.5" lengthAdjust="spacingAndGlyphs" fill="#111" stroke="#111" stroke-width="0.15">20</text>
<text x="483.8" y="128.4" font-size="8.3" font-family="'Liberation Sans', sans-serif" text-anchor="middle" textLength="7.5" lengthAdjust="spacingAndGlyphs" fill="#111" stroke="#111" stroke-width="0.15">25</text>
<text x="492.8" y="123.7" font-size="8.3" font-family="'Liberation Sans', sans-serif" text-anchor="middle" textLength="7.5" lengthAdjust="spacingAndGlyphs" fill="#111" stroke="#111" stroke-width="0.15">30</text>
<text x="501.6" y="118.9" font-size="8.3" font-family="'Liberation Sans', sans-serif" text-anchor="middle" textLength="7.5" lengthAdjust="spacingAndGlyphs" fill="#111" stroke="#111" stroke-width="0.15">35</text>
<text x="330.0" y="14.5" font-size="11.5" font-family="'Liberation Serif', serif" textLength="168.4" lengthAdjust="spacingAndGlyphs" fill="#1a1a1a" stroke="#1a1a1a" stroke-width="0.25">Model 1 dispersion&#160; diagram (5C)</text>
<text x="321.5" y="158.0" font-size="9" font-family="'Liberation Serif', serif" textLength="95.9" lengthAdjust="spacingAndGlyphs" fill="#1a1a1a" stroke="#1a1a1a" stroke-width="0.22">Initial solid percentage (%)</text>
<text x="482.6" y="141.8" font-size="9" font-family="'Liberation Serif', serif" textLength="62.2" lengthAdjust="spacingAndGlyphs" fill="#1a1a1a" stroke="#1a1a1a" stroke-width="0.22">Water content (%)</text>
<text transform="translate(292.9,132) rotate(-90)" font-size="8.0" font-family="'Liberation Serif', serif" textLength="87.8" lengthAdjust="spacingAndGlyphs" fill="#1a1a1a" stroke="#1a1a1a" stroke-width="0.05">Flocculation dosage (g/t)</text>
<line x1="78.5" y1="296.3" x2="78.5" y2="226.8" class="gd"/>
<line x1="103.3" y1="298.1" x2="103.3" y2="228.6" class="gd"/>
<line x1="128.1" y1="299.9" x2="128.1" y2="230.4" class="gd"/>
<line x1="152.9" y1="301.7" x2="152.9" y2="232.2" class="gd"/>
<line x1="177.7" y1="303.5" x2="177.7" y2="234.0" class="gd"/>
<line x1="202.5" y1="305.3" x2="202.5" y2="235.8" class="gd"/>
<line x1="74.9" y1="296.0" x2="205.9" y2="305.5" class="gd"/>
<line x1="74.9" y1="282.1" x2="205.9" y2="291.6" class="gd"/>
<line x1="74.9" y1="268.2" x2="205.9" y2="277.7" class="gd"/>
<line x1="74.9" y1="254.3" x2="205.9" y2="263.8" class="gd"/>
<line x1="74.9" y1="240.4" x2="205.9" y2="249.9" class="gd"/>
<line x1="74.9" y1="226.5" x2="205.9" y2="236.0" class="gd"/>
<line x1="27.6" y1="320.9" x2="27.6" y2="251.4" class="gd"/>
<line x1="35.5" y1="316.8" x2="35.5" y2="247.2" class="gd"/>
<line x1="43.4" y1="312.6" x2="43.4" y2="243.1" class="gd"/>
<line x1="51.2" y1="308.4" x2="51.2" y2="238.9" class="gd"/>
<line x1="59.1" y1="304.3" x2="59.1" y2="234.8" class="gd"/>
<line x1="67.0" y1="300.1" x2="67.0" y2="230.6" class="gd"/>
<line x1="74.9" y1="296.0" x2="74.9" y2="226.5" class="gd"/>
<line x1="27.6" y1="320.9" x2="74.9" y2="296.0" class="gd"/>
<line x1="27.6" y1="307.0" x2="74.9" y2="282.1" class="gd"/>
<line x1="27.6" y1="293.1" x2="74.9" y2="268.2" class="gd"/>
<line x1="27.6" y1="279.2" x2="74.9" y2="254.3" class="gd"/>
<line x1="27.6" y1="265.3" x2="74.9" y2="240.4" class="gd"/>
<line x1="27.6" y1="251.4" x2="74.9" y2="226.5" class="gd"/>
<line x1="27.6" y1="320.9" x2="158.6" y2="330.4" class="gd"/>
<line x1="35.5" y1="316.8" x2="166.5" y2="326.2" class="gd"/>
<line x1="43.4" y1="312.6" x2="174.4" y2="322.1" class="gd"/>
<line x1="51.2" y1="308.4" x2="182.2" y2="317.9" class="gd"/>
<line x1="59.1" y1="304.3" x2="190.1" y2="313.8" class="gd"/>
<line x1="67.0" y1="300.1" x2="198.0" y2="309.6" class="gd"/>
<line x1="74.9" y1="296.0" x2="205.9" y2="305.5" class="gd"/>
<line x1="27.6" y1="320.9" x2="27.6" y2="251.4" class="bx"/>
<line x1="74.9" y1="296.0" x2="74.9" y2="226.5" class="bx"/>
<line x1="158.6" y1="330.4" x2="158.6" y2="260.9" class="bx"/>
<line x1="205.9" y1="305.5" x2="205.9" y2="236.0" class="bx"/>
<line x1="27.6" y1="320.9" x2="74.9" y2="296.0" class="bx"/>
<line x1="27.6" y1="251.4" x2="74.9" y2="226.5" class="bx"/>
<line x1="158.6" y1="330.4" x2="205.9" y2="305.5" class="bx"/>
<line x1="158.6" y1="260.9" x2="205.9" y2="236.0" class="bx"/>
<line x1="27.6" y1="320.9" x2="158.6" y2="330.4" class="bx"/>
<line x1="27.6" y1="251.4" x2="158.6" y2="260.9" class="bx"/>
<line x1="74.9" y1="296.0" x2="205.9" y2="305.5" class="bx"/>
<line x1="74.9" y1="226.5" x2="205.9" y2="236.0" class="bx"/>
<line x1="31.2" y1="321.2" x2="32.6" y2="320.4" class="tk"/>
<line x1="39.5" y1="321.8" x2="40.9" y2="321.0" class="tk"/>
<line x1="47.8" y1="322.4" x2="49.2" y2="321.6" class="tk"/>
<line x1="56.0" y1="323.0" x2="57.4" y2="322.2" class="tk"/>
<line x1="64.3" y1="323.6" x2="65.7" y2="322.8" class="tk"/>
<line x1="72.5" y1="324.2" x2="74.0" y2="323.4" class="tk"/>
<line x1="80.8" y1="324.8" x2="82.2" y2="324.0" class="tk"/>
<line x1="89.1" y1="325.4" x2="90.5" y2="324.6" class="tk"/>
<line x1="97.3" y1="326.0" x2="98.7" y2="325.2" class="tk"/>
<line x1="105.6" y1="326.6" x2="107.0" y2="325.8" class="tk"/>
<line x1="113.9" y1="327.2" x2="115.3" y2="326.4" class="tk"/>
<line x1="122.1" y1="327.8" x2="123.5" y2="327.0" class="tk"/>
<line x1="130.4" y1="328.4" x2="131.8" y2="327.6" class="tk"/>
<line x1="138.6" y1="329.0" x2="140.1" y2="328.2" class="tk"/>
<line x1="146.9" y1="329.6" x2="148.3" y2="328.8" class="tk"/>
<line x1="155.2" y1="330.2" x2="156.6" y2="329.4" class="tk"/>
<line x1="27.6" y1="316.3" x2="29.2" y2="316.3" class="tk"/>
<line x1="74.9" y1="291.4" x2="76.5" y2="291.4" class="tk"/>
<line x1="205.9" y1="300.9" x2="204.3" y2="300.9" class="tk"/>
<line x1="158.6" y1="325.8" x2="157.0" y2="325.8" class="tk"/>
<line x1="27.6" y1="311.6" x2="29.2" y2="311.6" class="tk"/>
<line x1="74.9" y1="286.7" x2="76.5" y2="286.7" class="tk"/>
<line x1="205.9" y1="296.2" x2="204.3" y2="296.2" class="tk"/>
<line x1="158.6" y1="321.1" x2="157.0" y2="321.1" class="tk"/>
<line x1="27.6" y1="307.0" x2="29.2" y2="307.0" class="tk"/>
<line x1="74.9" y1="282.1" x2="76.5" y2="282.1" class="tk"/>
<line x1="205.9" y1="291.6" x2="204.3" y2="291.6" class="tk"/>
<line x1="158.6" y1="316.5" x2="157.0" y2="316.5" class="tk"/>
<line x1="27.6" y1="302.4" x2="29.2" y2="302.4" class="tk"/>
<line x1="74.9" y1="277.5" x2="76.5" y2="277.5" class="tk"/>
<line x1="205.9" y1="287.0" x2="204.3" y2="287.0" class="tk"/>
<line x1="158.6" y1="311.9" x2="157.0" y2="311.9" class="tk"/>
<line x1="27.6" y1="297.7" x2="29.2" y2="297.7" class="tk"/>
<line x1="74.9" y1="272.8" x2="76.5" y2="272.8" class="tk"/>
<line x1="205.9" y1="282.3" x2="204.3" y2="282.3" class="tk"/>
<line x1="158.6" y1="307.2" x2="157.0" y2="307.2" class="tk"/>
<line x1="27.6" y1="293.1" x2="29.2" y2="293.1" class="tk"/>
<line x1="74.9" y1="268.2" x2="76.5" y2="268.2" class="tk"/>
<line x1="205.9" y1="277.7" x2="204.3" y2="277.7" class="tk"/>
<line x1="158.6" y1="302.6" x2="157.0" y2="302.6" class="tk"/>
<line x1="27.6" y1="288.5" x2="29.2" y2="288.5" class="tk"/>
<line x1="74.9" y1="263.6" x2="76.5" y2="263.6" class="tk"/>
<line x1="205.9" y1="273.1" x2="204.3" y2="273.1" class="tk"/>
<line x1="158.6" y1="298.0" x2="157.0" y2="298.0" class="tk"/>
<line x1="27.6" y1="283.8" x2="29.2" y2="283.8" class="tk"/>
<line x1="74.9" y1="258.9" x2="76.5" y2="258.9" class="tk"/>
<line x1="205.9" y1="268.4" x2="204.3" y2="268.4" class="tk"/>
<line x1="158.6" y1="293.3" x2="157.0" y2="293.3" class="tk"/>
<line x1="27.6" y1="279.2" x2="29.2" y2="279.2" class="tk"/>
<line x1="74.9" y1="254.3" x2="76.5" y2="254.3" class="tk"/>
<line x1="205.9" y1="263.8" x2="204.3" y2="263.8" class="tk"/>
<line x1="158.6" y1="288.7" x2="157.0" y2="288.7" class="tk"/>
<line x1="27.6" y1="274.6" x2="29.2" y2="274.6" class="tk"/>
<line x1="74.9" y1="249.7" x2="76.5" y2="249.7" class="tk"/>
<line x1="205.9" y1="259.2" x2="204.3" y2="259.2" class="tk"/>
<line x1="158.6" y1="284.1" x2="157.0" y2="284.1" class="tk"/>
<line x1="27.6" y1="269.9" x2="29.2" y2="269.9" class="tk"/>
<line x1="74.9" y1="245.0" x2="76.5" y2="245.0" class="tk"/>
<line x1="205.9" y1="254.5" x2="204.3" y2="254.5" class="tk"/>
<line x1="158.6" y1="279.4" x2="157.0" y2="279.4" class="tk"/>
<line x1="27.6" y1="265.3" x2="29.2" y2="265.3" class="tk"/>
<line x1="74.9" y1="240.4" x2="76.5" y2="240.4" class="tk"/>
<line x1="205.9" y1="249.9" x2="204.3" y2="249.9" class="tk"/>
<line x1="158.6" y1="274.8" x2="157.0" y2="274.8" class="tk"/>
<line x1="27.6" y1="260.7" x2="29.2" y2="260.7" class="tk"/>
<line x1="74.9" y1="235.8" x2="76.5" y2="235.8" class="tk"/>
<line x1="205.9" y1="245.3" x2="204.3" y2="245.3" class="tk"/>
<line x1="158.6" y1="270.2" x2="157.0" y2="270.2" class="tk"/>
<line x1="27.6" y1="256.0" x2="29.2" y2="256.0" class="tk"/>
<line x1="74.9" y1="231.1" x2="76.5" y2="231.1" class="tk"/>
<line x1="205.9" y1="240.6" x2="204.3" y2="240.6" class="tk"/>
<line x1="158.6" y1="265.5" x2="157.0" y2="265.5" class="tk"/>
<rect x="35.3" y="246.7" width="4.0" height="4.0" fill="#fdc636"/>
<rect x="39.8" y="244.4" width="4.0" height="4.0" fill="#fdc636"/>
<rect x="44.4" y="242.0" width="4.0" height="4.0" fill="#fdc636"/>
<rect x="47.1" y="240.2" width="4.0" height="4.0" fill="#fdc636"/>
<rect x="56.2" y="235.6" width="4.0" height="4.0" fill="#008000"/>
<rect x="63.5" y="231.6" width="4.0" height="4.0" fill="#008000"/>
<rect x="68.5" y="229.3" width="4.0" height="4.0" fill="#008000"/>
<rect x="74.7" y="250.4" width="4.0" height="4.0" fill="#ff0000"/>
<rect x="78.9" y="247.1" width="4.0" height="4.0" fill="#fdc636"/>
<rect x="81.0" y="246.3" width="4.0" height="4.0" fill="#fdc636"/>
<rect x="83.0" y="245.4" width="4.0" height="4.0" fill="#fdc636"/>
<rect x="85.0" y="244.6" width="4.0" height="4.0" fill="#fdc636"/>
<rect x="87.1" y="243.8" width="4.0" height="4.0" fill="#fdc636"/>
<rect x="91.6" y="241.3" width="4.0" height="4.0" fill="#fdc636"/>
<rect x="93.2" y="240.5" width="4.0" height="4.0" fill="#fdc636"/>
<rect x="94.8" y="239.7" width="4.0" height="4.0" fill="#fdc636"/>
<rect x="96.4" y="238.8" width="4.0" height="4.0" fill="#fdc636"/>
<rect x="98.0" y="238.0" width="4.0" height="4.0" fill="#fdc636"/>
<rect x="102.5" y="235.6" width="4.0" height="4.0" fill="#008000"/>
<rect x="115.3" y="253.5" width="4.0" height="4.0" fill="#ff0000"/>
<rect x="61.6" y="255.8" width="4.0" height="4.0" fill="#008000"/>
<rect x="63.8" y="254.4" width="4.0" height="4.0" fill="#008000"/>
<rect x="50.7" y="261.3" width="4.0" height="4.0" fill="#fdc636"/>
<rect x="56.5" y="258.4" width="4.0" height="4.0" fill="#fdc636"/>
<rect x="39.8" y="267.1" width="4.0" height="4.0" fill="#fdc636"/>
<rect x="44.4" y="265.6" width="4.0" height="4.0" fill="#fdc636"/>
<rect x="32.5" y="271.1" width="4.0" height="4.0" fill="#ff0000"/>
<rect x="73.5" y="273.5" width="4.0" height="4.0" fill="#ff0000"/>
<rect x="76.5" y="272.5" width="4.0" height="4.0" fill="#ff0000"/>
<rect x="80.7" y="270.7" width="4.0" height="4.0" fill="#fdc636"/>
<rect x="86.2" y="267.1" width="4.0" height="4.0" fill="#fdc636"/>
<rect x="88.3" y="266.2" width="4.0" height="4.0" fill="#fdc636"/>
<rect x="90.4" y="265.3" width="4.0" height="4.0" fill="#fdc636"/>
<rect x="92.5" y="264.4" width="4.0" height="4.0" fill="#fdc636"/>
<rect x="117.0" y="275.8" width="4.0" height="4.0" fill="#ff0000"/>
<rect x="61.6" y="278.9" width="4.0" height="4.0" fill="#008000"/>
<rect x="119.4" y="251.6" width="4.0" height="4.0" fill="#fdc636"/>
<rect x="121.2" y="250.7" width="4.0" height="4.0" fill="#fdc636"/>
<rect x="123.0" y="249.8" width="4.0" height="4.0" fill="#fdc636"/>
<rect x="124.8" y="248.9" width="4.0" height="4.0" fill="#fdc636"/>
<rect x="133.4" y="244.0" width="4.0" height="4.0" fill="#008000"/>
<rect x="158.5" y="256.2" width="4.0" height="4.0" fill="#fdc636"/>
<rect x="160.1" y="255.2" width="4.0" height="4.0" fill="#fdc636"/>
<rect x="161.7" y="254.2" width="4.0" height="4.0" fill="#fdc636"/>
<rect x="163.4" y="253.1" width="4.0" height="4.0" fill="#fdc636"/>
<rect x="165.0" y="252.1" width="4.0" height="4.0" fill="#fdc636"/>
<rect x="166.6" y="251.1" width="4.0" height="4.0" fill="#fdc636"/>
<rect x="179.9" y="243.5" width="4.0" height="4.0" fill="#fdc636"/>
<rect x="133.4" y="267.1" width="4.0" height="4.0" fill="#fdc636"/>
<rect x="122.1" y="272.5" width="4.0" height="4.0" fill="#fdc636"/>
<rect x="123.9" y="271.8" width="4.0" height="4.0" fill="#fdc636"/>
<rect x="125.8" y="271.1" width="4.0" height="4.0" fill="#fdc636"/>
<rect x="127.6" y="270.5" width="4.0" height="4.0" fill="#fdc636"/>
<rect x="129.4" y="269.8" width="4.0" height="4.0" fill="#fdc636"/>
<rect x="161.7" y="276.2" width="4.0" height="4.0" fill="#ff0000"/>
<rect x="163.9" y="275.8" width="4.0" height="4.0" fill="#fdc636"/>
<rect x="179.9" y="267.1" width="4.0" height="4.0" fill="#fdc636"/>
<rect x="53.5" y="283.5" width="4.0" height="4.0" fill="#fdc636"/>
<rect x="47.5" y="286.7" width="4.0" height="4.0" fill="#fdc636"/>
<rect x="39.8" y="290.7" width="4.0" height="4.0" fill="#fdc636"/>
<rect x="31.1" y="295.3" width="4.0" height="4.0" fill="#ff0000"/>
<rect x="35.6" y="293.1" width="4.0" height="4.0" fill="#ff0000"/>
<rect x="75.3" y="296.7" width="4.0" height="4.0" fill="#ff0000"/>
<rect x="79.8" y="294.4" width="4.0" height="4.0" fill="#fdc636"/>
<rect x="81.6" y="293.5" width="4.0" height="4.0" fill="#fdc636"/>
<rect x="83.4" y="292.5" width="4.0" height="4.0" fill="#fdc636"/>
<rect x="85.3" y="291.6" width="4.0" height="4.0" fill="#fdc636"/>
<rect x="87.1" y="290.7" width="4.0" height="4.0" fill="#fdc636"/>
<rect x="91.6" y="287.6" width="4.0" height="4.0" fill="#fdc636"/>
<rect x="117.1" y="298.5" width="4.0" height="4.0" fill="#ff0000"/>
<rect x="37.6" y="315.3" width="4.0" height="4.0" fill="#ff0000"/>
<rect x="39.5" y="314.4" width="4.0" height="4.0" fill="#ff0000"/>
<rect x="43.5" y="312.5" width="4.0" height="4.0" fill="#fdc636"/>
<rect x="45.3" y="311.5" width="4.0" height="4.0" fill="#fdc636"/>
<rect x="47.1" y="310.4" width="4.0" height="4.0" fill="#fdc636"/>
<rect x="48.9" y="309.4" width="4.0" height="4.0" fill="#fdc636"/>
<rect x="50.7" y="308.4" width="4.0" height="4.0" fill="#fdc636"/>
<rect x="74.4" y="320.7" width="4.0" height="4.0" fill="#fdc636"/>
<rect x="76.2" y="319.8" width="4.0" height="4.0" fill="#fdc636"/>
<rect x="78.0" y="318.9" width="4.0" height="4.0" fill="#fdc636"/>
<rect x="79.8" y="318.0" width="4.0" height="4.0" fill="#fdc636"/>
<rect x="81.7" y="317.1" width="4.0" height="4.0" fill="#fdc636"/>
<rect x="83.5" y="316.2" width="4.0" height="4.0" fill="#fdc636"/>
<rect x="85.3" y="315.3" width="4.0" height="4.0" fill="#fdc636"/>
<rect x="87.1" y="314.4" width="4.0" height="4.0" fill="#fdc636"/>
<rect x="91.6" y="310.7" width="4.0" height="4.0" fill="#fdc636"/>
<rect x="117.1" y="321.6" width="4.0" height="4.0" fill="#ff0000"/>
<rect x="154.8" y="280.4" width="4.0" height="4.0" fill="#ff0000"/>
<rect x="156.6" y="279.3" width="4.0" height="4.0" fill="#ff0000"/>
<rect x="133.4" y="290.2" width="4.0" height="4.0" fill="#fdc636"/>
<rect x="123.9" y="295.3" width="4.0" height="4.0" fill="#fdc636"/>
<rect x="125.7" y="294.4" width="4.0" height="4.0" fill="#fdc636"/>
<rect x="127.5" y="293.5" width="4.0" height="4.0" fill="#fdc636"/>
<rect x="121.2" y="296.7" width="4.0" height="4.0" fill="#ff0000"/>
<rect x="171.2" y="294.9" width="4.0" height="4.0" fill="#ff0000"/>
<rect x="179.9" y="290.2" width="4.0" height="4.0" fill="#fdc636"/>
<rect x="154.8" y="303.5" width="4.0" height="4.0" fill="#ff0000"/>
<rect x="158.5" y="301.6" width="4.0" height="4.0" fill="#ff0000"/>
<rect x="163.0" y="299.3" width="4.0" height="4.0" fill="#fdc636"/>
<rect x="133.4" y="313.8" width="4.0" height="4.0" fill="#fdc636"/>
<rect x="127.5" y="316.7" width="4.0" height="4.0" fill="#ff0000"/>
<rect x="179.9" y="313.8" width="4.0" height="4.0" fill="#fdc636"/>
<rect x="154.8" y="326.5" width="4.0" height="4.0" fill="#ff0000"/>
<rect x="158.5" y="325.3" width="4.0" height="4.0" fill="#ff0000"/>
<rect x="163.0" y="322.5" width="4.0" height="4.0" fill="#ff0000"/>
<text x="21.4" y="254.3" font-size="8.3" font-family="'Liberation Sans', sans-serif" text-anchor="middle" textLength="7.5" lengthAdjust="spacingAndGlyphs" fill="#111" stroke="#111" stroke-width="0.15">25</text>
<text x="21.4" y="268.2" font-size="8.3" font-family="'Liberation Sans', sans-serif" text-anchor="middle" textLength="7.5" lengthAdjust="spacingAndGlyphs" fill="#111" stroke="#111" stroke-width="0.15">22</text>
<text x="21.4" y="282.1" font-size="8.3" font-family="'Liberation Sans', sans-serif" text-anchor="middle" textLength="7.5" lengthAdjust="spacingAndGlyphs" fill="#111" stroke="#111" stroke-width="0.15">19</text>
<text x="21.4" y="296.0" font-size="8.3" font-family="'Liberation Sans', sans-serif" text-anchor="middle" textLength="7.5" lengthAdjust="spacingAndGlyphs" fill="#111" stroke="#111" stroke-width="0.15">16</text>
<text x="21.4" y="309.9" font-size="8.3" font-family="'Liberation Sans', sans-serif" text-anchor="middle" textLength="7.5" lengthAdjust="spacingAndGlyphs" fill="#111" stroke="#111" stroke-width="0.15">13</text>
<text x="21.4" y="323.8" font-size="8.3" font-family="'Liberation Sans', sans-serif" text-anchor="middle" textLength="7.5" lengthAdjust="spacingAndGlyphs" fill="#111" stroke="#111" stroke-width="0.15">10</text>
<text x="29.3" y="331.4" font-size="8.3" font-family="'Liberation Sans', sans-serif" text-anchor="middle" textLength="7.5" lengthAdjust="spacingAndGlyphs" fill="#111" stroke="#111" stroke-width="0.15">15</text>
<text x="53.4" y="333.4" font-size="8.3" font-family="'Liberation Sans', sans-serif" text-anchor="middle" textLength="7.5" lengthAdjust="spacingAndGlyphs" fill="#111" stroke="#111" stroke-width="0.15">18</text>
<text x="77.6" y="335.5" font-size="8.3" font-family="'Liberation Sans', sans-serif" text-anchor="middle" textLength="7.5" lengthAdjust="spacingAndGlyphs" fill="#111" stroke="#111" stroke-width="0.15">21</text>
<text x="103.0" y="337.3" font-size="8.3" font-family="'Liberation Sans', sans-serif" text-anchor="middle" textLength="7.5" lengthAdjust="spacingAndGlyphs" fill="#111" stroke="#111" stroke-width="0.15">24</text>
<text x="127.2" y="338.9" font-size="8.3" font-family="'Liberation Sans', sans-serif" text-anchor="middle" textLength="7.5" lengthAdjust="spacingAndGlyphs" fill="#111" stroke="#111" stroke-width="0.15">27</text>
<text x="152.0" y="339.9" font-size="8.3" font-family="'Liberation Sans', sans-serif" text-anchor="middle" textLength="7.5" lengthAdjust="spacingAndGlyphs" fill="#111" stroke="#111" stroke-width="0.15">30</text>
<text x="171.0" y="335.5" font-size="8.3" font-family="'Liberation Sans', sans-serif" text-anchor="middle" textLength="7.5" lengthAdjust="spacingAndGlyphs" fill="#111" stroke="#111" stroke-width="0.15">65</text>
<text x="178.5" y="331.6" font-size="8.3" font-family="'Liberation Sans', sans-serif" text-anchor="middle" textLength="7.5" lengthAdjust="spacingAndGlyphs" fill="#111" stroke="#111" stroke-width="0.15">69</text>
<text x="186.0" y="327.8" font-size="8.3" font-family="'Liberation Sans', sans-serif" text-anchor="middle" textLength="7.5" lengthAdjust="spacingAndGlyphs" fill="#111" stroke="#111" stroke-width="0.15">73</text>
<text x="193.5" y="323.9" font-size="8.3" font-family="'Liberation Sans', sans-serif" text-anchor="middle" textLength="7.5" lengthAdjust="spacingAndGlyphs" fill="#111" stroke="#111" stroke-width="0.15">77</text>
<text x="201.0" y="320.0" font-size="8.3" font-family="'Liberation Sans', sans-serif" text-anchor="middle" textLength="7.5" lengthAdjust="spacingAndGlyphs" fill="#111" stroke="#111" stroke-width="0.15">81</text>
<text x="208.5" y="316.2" font-size="8.3" font-family="'Liberation Sans', sans-serif" text-anchor="middle" textLength="7.5" lengthAdjust="spacingAndGlyphs" fill="#111" stroke="#111" stroke-width="0.15">85</text>
<text x="216.0" y="312.3" font-size="8.3" font-family="'Liberation Sans', sans-serif" text-anchor="middle" textLength="7.5" lengthAdjust="spacingAndGlyphs" fill="#111" stroke="#111" stroke-width="0.15">89</text>
<text x="37.1" y="206.1" font-size="11.5" font-family="'Liberation Serif', serif" textLength="169.3" lengthAdjust="spacingAndGlyphs" fill="#1a1a1a" stroke="#1a1a1a" stroke-width="0.25">Model 2 dispersion&#160; diagram (3C)</text>
<text x="46.3" y="350.5" font-size="9" font-family="'Liberation Serif', serif" textLength="94.4" lengthAdjust="spacingAndGlyphs" fill="#1a1a1a" stroke="#1a1a1a" stroke-width="0.22">Initial solid percentage (%)</text>
<text x="202.4" y="333.6" font-size="9" font-family="'Liberation Serif', serif" textLength="35.6" lengthAdjust="spacingAndGlyphs" fill="#1a1a1a" stroke="#1a1a1a" stroke-width="0.22">Final solid</text>
<text x="202.4" y="344.0" font-size="9" font-family="'Liberation Serif', serif" textLength="52.6" lengthAdjust="spacingAndGlyphs" fill="#1a1a1a" stroke="#1a1a1a" stroke-width="0.22">percentage (%)</text>
<text transform="translate(9.9,323.2) rotate(-90)" font-size="8.0" font-family="'Liberation Serif', serif" textLength="87.6" lengthAdjust="spacingAndGlyphs" fill="#1a1a1a" stroke="#1a1a1a" stroke-width="0.05">Flocculation dosage (g/t)</text>
<line x1="365.2" y1="296.4" x2="365.2" y2="226.6" class="gd"/>
<line x1="390.0" y1="298.2" x2="390.0" y2="228.4" class="gd"/>
<line x1="414.7" y1="300.0" x2="414.7" y2="230.2" class="gd"/>
<line x1="439.4" y1="301.8" x2="439.4" y2="232.0" class="gd"/>
<line x1="464.1" y1="303.6" x2="464.1" y2="233.8" class="gd"/>
<line x1="488.9" y1="305.4" x2="488.9" y2="235.6" class="gd"/>
<line x1="361.6" y1="296.1" x2="492.3" y2="305.6" class="gd"/>
<line x1="361.6" y1="282.1" x2="492.3" y2="291.6" class="gd"/>
<line x1="361.6" y1="268.2" x2="492.3" y2="277.7" class="gd"/>
<line x1="361.6" y1="254.2" x2="492.3" y2="263.7" class="gd"/>
<line x1="361.6" y1="240.3" x2="492.3" y2="249.8" class="gd"/>
<line x1="361.6" y1="226.3" x2="492.3" y2="235.8" class="gd"/>
<line x1="313.7" y1="321.3" x2="313.7" y2="251.5" class="gd"/>
<line x1="321.7" y1="317.1" x2="321.7" y2="247.3" class="gd"/>
<line x1="329.7" y1="312.9" x2="329.7" y2="243.1" class="gd"/>
<line x1="337.6" y1="308.7" x2="337.6" y2="238.9" class="gd"/>
<line x1="345.6" y1="304.5" x2="345.6" y2="234.7" class="gd"/>
<line x1="353.6" y1="300.3" x2="353.6" y2="230.5" class="gd"/>
<line x1="361.6" y1="296.1" x2="361.6" y2="226.3" class="gd"/>
<line x1="313.7" y1="321.3" x2="361.6" y2="296.1" class="gd"/>
<line x1="313.7" y1="307.3" x2="361.6" y2="282.1" class="gd"/>
<line x1="313.7" y1="293.4" x2="361.6" y2="268.2" class="gd"/>
<line x1="313.7" y1="279.4" x2="361.6" y2="254.2" class="gd"/>
<line x1="313.7" y1="265.5" x2="361.6" y2="240.3" class="gd"/>
<line x1="313.7" y1="251.5" x2="361.6" y2="226.3" class="gd"/>
<line x1="313.7" y1="321.3" x2="444.4" y2="330.8" class="gd"/>
<line x1="321.7" y1="317.1" x2="452.4" y2="326.6" class="gd"/>
<line x1="329.7" y1="312.9" x2="460.4" y2="322.4" class="gd"/>
<line x1="337.6" y1="308.7" x2="468.3" y2="318.2" class="gd"/>
<line x1="345.6" y1="304.5" x2="476.3" y2="314.0" class="gd"/>
<line x1="353.6" y1="300.3" x2="484.3" y2="309.8" class="gd"/>
<line x1="361.6" y1="296.1" x2="492.3" y2="305.6" class="gd"/>
<line x1="313.7" y1="321.3" x2="313.7" y2="251.5" class="bx"/>
<line x1="361.6" y1="296.1" x2="361.6" y2="226.3" class="bx"/>
<line x1="444.4" y1="330.8" x2="444.4" y2="261.0" class="bx"/>
<line x1="492.3" y1="305.6" x2="492.3" y2="235.8" class="bx"/>
<line x1="313.7" y1="321.3" x2="361.6" y2="296.1" class="bx"/>
<line x1="313.7" y1="251.5" x2="361.6" y2="226.3" class="bx"/>
<line x1="444.4" y1="330.8" x2="492.3" y2="305.6" class="bx"/>
<line x1="444.4" y1="261.0" x2="492.3" y2="235.8" class="bx"/>
<line x1="313.7" y1="321.3" x2="444.4" y2="330.8" class="bx"/>
<line x1="313.7" y1="251.5" x2="444.4" y2="261.0" class="bx"/>
<line x1="361.6" y1="296.1" x2="492.3" y2="305.6" class="bx"/>
<line x1="361.6" y1="226.3" x2="492.3" y2="235.8" class="bx"/>
<line x1="317.3" y1="321.6" x2="318.7" y2="320.8" class="tk"/>
<line x1="325.6" y1="322.2" x2="327.0" y2="321.4" class="tk"/>
<line x1="333.8" y1="322.8" x2="335.2" y2="322.0" class="tk"/>
<line x1="342.1" y1="323.4" x2="343.5" y2="322.6" class="tk"/>
<line x1="350.3" y1="324.0" x2="351.7" y2="323.2" class="tk"/>
<line x1="358.5" y1="324.6" x2="360.0" y2="323.8" class="tk"/>
<line x1="366.8" y1="325.2" x2="368.2" y2="324.4" class="tk"/>
<line x1="375.0" y1="325.8" x2="376.4" y2="325.0" class="tk"/>
<line x1="383.3" y1="326.4" x2="384.7" y2="325.6" class="tk"/>
<line x1="391.5" y1="327.0" x2="392.9" y2="326.2" class="tk"/>
<line x1="399.8" y1="327.6" x2="401.2" y2="326.8" class="tk"/>
<line x1="408.0" y1="328.2" x2="409.4" y2="327.4" class="tk"/>
<line x1="416.2" y1="328.8" x2="417.7" y2="328.0" class="tk"/>
<line x1="424.5" y1="329.4" x2="425.9" y2="328.6" class="tk"/>
<line x1="432.7" y1="330.0" x2="434.2" y2="329.2" class="tk"/>
<line x1="441.0" y1="330.6" x2="442.4" y2="329.8" class="tk"/>
<line x1="313.7" y1="316.6" x2="315.3" y2="316.6" class="tk"/>
<line x1="361.6" y1="291.4" x2="363.2" y2="291.4" class="tk"/>
<line x1="492.3" y1="300.9" x2="490.7" y2="300.9" class="tk"/>
<line x1="444.4" y1="326.1" x2="442.8" y2="326.1" class="tk"/>
<line x1="313.7" y1="312.0" x2="315.3" y2="312.0" class="tk"/>
<line x1="361.6" y1="286.8" x2="363.2" y2="286.8" class="tk"/>
<line x1="492.3" y1="296.3" x2="490.7" y2="296.3" class="tk"/>
<line x1="444.4" y1="321.5" x2="442.8" y2="321.5" class="tk"/>
<line x1="313.7" y1="307.3" x2="315.3" y2="307.3" class="tk"/>
<line x1="361.6" y1="282.1" x2="363.2" y2="282.1" class="tk"/>
<line x1="492.3" y1="291.6" x2="490.7" y2="291.6" class="tk"/>
<line x1="444.4" y1="316.8" x2="442.8" y2="316.8" class="tk"/>
<line x1="313.7" y1="302.7" x2="315.3" y2="302.7" class="tk"/>
<line x1="361.6" y1="277.5" x2="363.2" y2="277.5" class="tk"/>
<line x1="492.3" y1="287.0" x2="490.7" y2="287.0" class="tk"/>
<line x1="444.4" y1="312.2" x2="442.8" y2="312.2" class="tk"/>
<line x1="313.7" y1="298.0" x2="315.3" y2="298.0" class="tk"/>
<line x1="361.6" y1="272.8" x2="363.2" y2="272.8" class="tk"/>
<line x1="492.3" y1="282.3" x2="490.7" y2="282.3" class="tk"/>
<line x1="444.4" y1="307.5" x2="442.8" y2="307.5" class="tk"/>
<line x1="313.7" y1="293.4" x2="315.3" y2="293.4" class="tk"/>
<line x1="361.6" y1="268.2" x2="363.2" y2="268.2" class="tk"/>
<line x1="492.3" y1="277.7" x2="490.7" y2="277.7" class="tk"/>
<line x1="444.4" y1="302.9" x2="442.8" y2="302.9" class="tk"/>
<line x1="313.7" y1="288.7" x2="315.3" y2="288.7" class="tk"/>
<line x1="361.6" y1="263.5" x2="363.2" y2="263.5" class="tk"/>
<line x1="492.3" y1="273.0" x2="490.7" y2="273.0" class="tk"/>
<line x1="444.4" y1="298.2" x2="442.8" y2="298.2" class="tk"/>
<line x1="313.7" y1="284.1" x2="315.3" y2="284.1" class="tk"/>
<line x1="361.6" y1="258.9" x2="363.2" y2="258.9" class="tk"/>
<line x1="492.3" y1="268.4" x2="490.7" y2="268.4" class="tk"/>
<line x1="444.4" y1="293.6" x2="442.8" y2="293.6" class="tk"/>
<line x1="313.7" y1="279.4" x2="315.3" y2="279.4" class="tk"/>
<line x1="361.6" y1="254.2" x2="363.2" y2="254.2" class="tk"/>
<line x1="492.3" y1="263.7" x2="490.7" y2="263.7" class="tk"/>
<line x1="444.4" y1="288.9" x2="442.8" y2="288.9" class="tk"/>
<line x1="313.7" y1="274.8" x2="315.3" y2="274.8" class="tk"/>
<line x1="361.6" y1="249.6" x2="363.2" y2="249.6" class="tk"/>
<line x1="492.3" y1="259.1" x2="490.7" y2="259.1" class="tk"/>
<line x1="444.4" y1="284.3" x2="442.8" y2="284.3" class="tk"/>
<line x1="313.7" y1="270.1" x2="315.3" y2="270.1" class="tk"/>
<line x1="361.6" y1="244.9" x2="363.2" y2="244.9" class="tk"/>
<line x1="492.3" y1="254.4" x2="490.7" y2="254.4" class="tk"/>
<line x1="444.4" y1="279.6" x2="442.8" y2="279.6" class="tk"/>
<line x1="313.7" y1="265.5" x2="315.3" y2="265.5" class="tk"/>
<line x1="361.6" y1="240.3" x2="363.2" y2="240.3" class="tk"/>
<line x1="492.3" y1="249.8" x2="490.7" y2="249.8" class="tk"/>
<line x1="444.4" y1="275.0" x2="442.8" y2="275.0" class="tk"/>
<line x1="313.7" y1="260.8" x2="315.3" y2="260.8" class="tk"/>
<line x1="361.6" y1="235.6" x2="363.2" y2="235.6" class="tk"/>
<line x1="492.3" y1="245.1" x2="490.7" y2="245.1" class="tk"/>
<line x1="444.4" y1="270.3" x2="442.8" y2="270.3" class="tk"/>
<line x1="313.7" y1="256.2" x2="315.3" y2="256.2" class="tk"/>
<line x1="361.6" y1="231.0" x2="363.2" y2="231.0" class="tk"/>
<line x1="492.3" y1="240.5" x2="490.7" y2="240.5" class="tk"/>
<line x1="444.4" y1="265.7" x2="442.8" y2="265.7" class="tk"/>
<rect x="321.6" y="246.7" width="4.0" height="4.0" fill="#ff8000"/>
<rect x="326.2" y="244.4" width="4.0" height="4.0" fill="#fdc636"/>
<rect x="329.8" y="242.5" width="4.0" height="4.0" fill="#fdc636"/>
<rect x="334.0" y="240.2" width="4.0" height="4.0" fill="#fdc636"/>
<rect x="342.5" y="235.6" width="4.0" height="4.0" fill="#00f02a"/>
<rect x="349.8" y="231.6" width="4.0" height="4.0" fill="#008000"/>
<rect x="354.7" y="228.9" width="4.0" height="4.0" fill="#008000"/>
<rect x="360.7" y="250.7" width="4.0" height="4.0" fill="#ff8000"/>
<rect x="365.3" y="248.0" width="4.0" height="4.0" fill="#ff8000"/>
<rect x="369.8" y="246.2" width="4.0" height="4.0" fill="#fdc636"/>
<rect x="371.1" y="245.3" width="4.0" height="4.0" fill="#fdc636"/>
<rect x="372.5" y="244.4" width="4.0" height="4.0" fill="#fdc636"/>
<rect x="378.0" y="241.6" width="4.0" height="4.0" fill="#fdc636"/>
<rect x="382.5" y="238.9" width="4.0" height="4.0" fill="#00f02a"/>
<rect x="388.9" y="235.8" width="4.0" height="4.0" fill="#00f02a"/>
<rect x="342.5" y="258.9" width="4.0" height="4.0" fill="#00f02a"/>
<rect x="348.9" y="255.3" width="4.0" height="4.0" fill="#00f02a"/>
<rect x="337.1" y="261.6" width="4.0" height="4.0" fill="#fdc636"/>
<rect x="326.2" y="267.5" width="4.0" height="4.0" fill="#ff8000"/>
<rect x="329.8" y="265.6" width="4.0" height="4.0" fill="#ff8000"/>
<rect x="318.4" y="271.1" width="4.0" height="4.0" fill="#ff8000"/>
<rect x="359.8" y="274.0" width="4.0" height="4.0" fill="#ff0000"/>
<rect x="363.1" y="272.9" width="4.0" height="4.0" fill="#ff8000"/>
<rect x="367.1" y="270.7" width="4.0" height="4.0" fill="#fdc636"/>
<rect x="368.9" y="269.6" width="4.0" height="4.0" fill="#fdc636"/>
<rect x="370.8" y="268.4" width="4.0" height="4.0" fill="#fdc636"/>
<rect x="372.6" y="267.3" width="4.0" height="4.0" fill="#fdc636"/>
<rect x="374.4" y="266.2" width="4.0" height="4.0" fill="#fdc636"/>
<rect x="378.9" y="264.4" width="4.0" height="4.0" fill="#00f02a"/>
<rect x="401.2" y="253.5" width="4.0" height="4.0" fill="#ff8000"/>
<rect x="404.3" y="251.6" width="4.0" height="4.0" fill="#ff8000"/>
<rect x="408.5" y="249.8" width="4.0" height="4.0" fill="#fdc636"/>
<rect x="410.3" y="248.9" width="4.0" height="4.0" fill="#fdc636"/>
<rect x="419.4" y="244.4" width="4.0" height="4.0" fill="#00f02a"/>
<rect x="445.7" y="255.3" width="4.0" height="4.0" fill="#fdc636"/>
<rect x="450.3" y="252.2" width="4.0" height="4.0" fill="#ff8000"/>
<rect x="451.5" y="251.6" width="4.0" height="4.0" fill="#ff8000"/>
<rect x="466.6" y="243.8" width="4.0" height="4.0" fill="#fdc636"/>
<rect x="419.4" y="267.5" width="4.0" height="4.0" fill="#00f02a"/>
<rect x="413.4" y="270.7" width="4.0" height="4.0" fill="#fdc636"/>
<rect x="409.0" y="272.5" width="4.0" height="4.0" fill="#ff8000"/>
<rect x="404.3" y="275.8" width="4.0" height="4.0" fill="#ff8000"/>
<rect x="449.0" y="276.2" width="4.0" height="4.0" fill="#ff8000"/>
<rect x="466.6" y="267.1" width="4.0" height="4.0" fill="#fdc636"/>
<rect x="348.0" y="279.3" width="4.0" height="4.0" fill="#00f02a"/>
<rect x="339.5" y="284.0" width="4.0" height="4.0" fill="#fdc636"/>
<rect x="333.5" y="286.7" width="4.0" height="4.0" fill="#fdc636"/>
<rect x="326.2" y="290.7" width="4.0" height="4.0" fill="#ff8000"/>
<rect x="321.6" y="293.1" width="4.0" height="4.0" fill="#ff8000"/>
<rect x="317.1" y="295.3" width="4.0" height="4.0" fill="#ff0000"/>
<rect x="360.7" y="296.7" width="4.0" height="4.0" fill="#ff8000"/>
<rect x="366.7" y="293.8" width="4.0" height="4.0" fill="#ff8000"/>
<rect x="370.7" y="291.6" width="4.0" height="4.0" fill="#fdc636"/>
<rect x="372.5" y="290.7" width="4.0" height="4.0" fill="#fdc636"/>
<rect x="378.0" y="287.6" width="4.0" height="4.0" fill="#fdc636"/>
<rect x="325.3" y="314.9" width="4.0" height="4.0" fill="#ff8000"/>
<rect x="329.8" y="312.0" width="4.0" height="4.0" fill="#ff8000"/>
<rect x="334.4" y="309.5" width="4.0" height="4.0" fill="#fdc636"/>
<rect x="360.7" y="320.4" width="4.0" height="4.0" fill="#ff8000"/>
<rect x="364.4" y="318.0" width="4.0" height="4.0" fill="#ff8000"/>
<rect x="368.0" y="316.2" width="4.0" height="4.0" fill="#fdc636"/>
<rect x="369.5" y="315.4" width="4.0" height="4.0" fill="#fdc636"/>
<rect x="371.0" y="314.6" width="4.0" height="4.0" fill="#fdc636"/>
<rect x="372.5" y="313.8" width="4.0" height="4.0" fill="#fdc636"/>
<rect x="378.0" y="311.3" width="4.0" height="4.0" fill="#fdc636"/>
<rect x="441.2" y="280.4" width="4.0" height="4.0" fill="#ff8000"/>
<rect x="443.0" y="279.3" width="4.0" height="4.0" fill="#ff8000"/>
<rect x="447.5" y="277.0" width="4.0" height="4.0" fill="#ff8000"/>
<rect x="450.3" y="276.2" width="4.0" height="4.0" fill="#ff8000"/>
<rect x="466.6" y="290.7" width="4.0" height="4.0" fill="#fdc636"/>
<rect x="419.9" y="290.7" width="4.0" height="4.0" fill="#fdc636"/>
<rect x="413.4" y="293.8" width="4.0" height="4.0" fill="#fdc636"/>
<rect x="403.9" y="298.0" width="4.0" height="4.0" fill="#ff8000"/>
<rect x="407.5" y="296.7" width="4.0" height="4.0" fill="#ff8000"/>
<rect x="410.3" y="295.6" width="4.0" height="4.0" fill="#ff8000"/>
<rect x="457.5" y="294.9" width="4.0" height="4.0" fill="#ff8000"/>
<rect x="440.6" y="304.0" width="4.0" height="4.0" fill="#ff0000"/>
<rect x="444.8" y="301.6" width="4.0" height="4.0" fill="#ff8000"/>
<rect x="449.7" y="299.3" width="4.0" height="4.0" fill="#ff8000"/>
<rect x="419.9" y="313.8" width="4.0" height="4.0" fill="#fdc636"/>
<rect x="413.9" y="316.7" width="4.0" height="4.0" fill="#ff8000"/>
<rect x="404.8" y="321.6" width="4.0" height="4.0" fill="#ff0000"/>
<rect x="466.6" y="313.8" width="4.0" height="4.0" fill="#fdc636"/>
<rect x="440.6" y="327.0" width="4.0" height="4.0" fill="#ff0000"/>
<rect x="444.3" y="325.8" width="4.0" height="4.0" fill="#ff0000"/>
<rect x="449.7" y="322.5" width="4.0" height="4.0" fill="#ff0000"/>
<text x="307.4" y="254.4" font-size="8.3" font-family="'Liberation Sans', sans-serif" text-anchor="middle" textLength="7.5" lengthAdjust="spacingAndGlyphs" fill="#111" stroke="#111" stroke-width="0.15">25</text>
<text x="307.4" y="268.4" font-size="8.3" font-family="'Liberation Sans', sans-serif" text-anchor="middle" textLength="7.5" lengthAdjust="spacingAndGlyphs" fill="#111" stroke="#111" stroke-width="0.15">22</text>
<text x="307.4" y="282.3" font-size="8.3" font-family="'Liberation Sans', sans-serif" text-anchor="middle" textLength="7.5" lengthAdjust="spacingAndGlyphs" fill="#111" stroke="#111" stroke-width="0.15">19</text>
<text x="307.4" y="296.3" font-size="8.3" font-family="'Liberation Sans', sans-serif" text-anchor="middle" textLength="7.5" lengthAdjust="spacingAndGlyphs" fill="#111" stroke="#111" stroke-width="0.15">16</text>
<text x="307.4" y="310.2" font-size="8.3" font-family="'Liberation Sans', sans-serif" text-anchor="middle" textLength="7.5" lengthAdjust="spacingAndGlyphs" fill="#111" stroke="#111" stroke-width="0.15">13</text>
<text x="307.4" y="324.2" font-size="8.3" font-family="'Liberation Sans', sans-serif" text-anchor="middle" textLength="7.5" lengthAdjust="spacingAndGlyphs" fill="#111" stroke="#111" stroke-width="0.15">10</text>
<text x="315.6" y="331.4" font-size="8.3" font-family="'Liberation Sans', sans-serif" text-anchor="middle" textLength="7.5" lengthAdjust="spacingAndGlyphs" fill="#111" stroke="#111" stroke-width="0.15">15</text>
<text x="339.7" y="333.4" font-size="8.3" font-family="'Liberation Sans', sans-serif" text-anchor="middle" textLength="7.5" lengthAdjust="spacingAndGlyphs" fill="#111" stroke="#111" stroke-width="0.15">18</text>
<text x="363.9" y="335.5" font-size="8.3" font-family="'Liberation Sans', sans-serif" text-anchor="middle" textLength="7.5" lengthAdjust="spacingAndGlyphs" fill="#111" stroke="#111" stroke-width="0.15">21</text>
<text x="389.3" y="337.3" font-size="8.3" font-family="'Liberation Sans', sans-serif" text-anchor="middle" textLength="7.5" lengthAdjust="spacingAndGlyphs" fill="#111" stroke="#111" stroke-width="0.15">24</text>
<text x="413.5" y="338.9" font-size="8.3" font-family="'Liberation Sans', sans-serif" text-anchor="middle" textLength="7.5" lengthAdjust="spacingAndGlyphs" fill="#111" stroke="#111" stroke-width="0.15">27</text>
<text x="438.3" y="339.9" font-size="8.3" font-family="'Liberation Sans', sans-serif" text-anchor="middle" textLength="7.5" lengthAdjust="spacingAndGlyphs" fill="#111" stroke="#111" stroke-width="0.15">30</text>
<text x="457.0" y="335.5" font-size="8.3" font-family="'Liberation Sans', sans-serif" text-anchor="middle" textLength="7.5" lengthAdjust="spacingAndGlyphs" fill="#111" stroke="#111" stroke-width="0.15">65</text>
<text x="464.6" y="331.6" font-size="8.3" font-family="'Liberation Sans', sans-serif" text-anchor="middle" textLength="7.5" lengthAdjust="spacingAndGlyphs" fill="#111" stroke="#111" stroke-width="0.15">69</text>
<text x="472.1" y="327.7" font-size="8.3" font-family="'Liberation Sans', sans-serif" text-anchor="middle" textLength="7.5" lengthAdjust="spacingAndGlyphs" fill="#111" stroke="#111" stroke-width="0.15">73</text>
<text x="479.7" y="323.8" font-size="8.3" font-family="'Liberation Sans', sans-serif" text-anchor="middle" textLength="7.5" lengthAdjust="spacingAndGlyphs" fill="#111" stroke="#111" stroke-width="0.15">77</text>
<text x="487.3" y="319.9" font-size="8.3" font-family="'Liberation Sans', sans-serif" text-anchor="middle" textLength="7.5" lengthAdjust="spacingAndGlyphs" fill="#111" stroke="#111" stroke-width="0.15">81</text>
<text x="494.8" y="316.0" font-size="8.3" font-family="'Liberation Sans', sans-serif" text-anchor="middle" textLength="7.5" lengthAdjust="spacingAndGlyphs" fill="#111" stroke="#111" stroke-width="0.15">85</text>
<text x="502.4" y="312.1" font-size="8.3" font-family="'Liberation Sans', sans-serif" text-anchor="middle" textLength="7.5" lengthAdjust="spacingAndGlyphs" fill="#111" stroke="#111" stroke-width="0.15">89</text>
<text x="330.0" y="206.1" font-size="11.5" font-family="'Liberation Serif', serif" textLength="168.4" lengthAdjust="spacingAndGlyphs" fill="#1a1a1a" stroke="#1a1a1a" stroke-width="0.25">Model 2 dispersion&#160; diagram (5C)</text>
<text x="322.0" y="350.2" font-size="9" font-family="'Liberation Serif', serif" textLength="93.5" lengthAdjust="spacingAndGlyphs" fill="#1a1a1a" stroke="#1a1a1a" stroke-width="0.22">Initial solid percentage (%)</text>
<text x="492.0" y="333.6" font-size="9" font-family="'Liberation Serif', serif" textLength="35.6" lengthAdjust="spacingAndGlyphs" fill="#1a1a1a" stroke="#1a1a1a" stroke-width="0.22">Final solid</text>
<text x="492.0" y="344.0" font-size="9" font-family="'Liberation Serif', serif" textLength="52.4" lengthAdjust="spacingAndGlyphs" fill="#1a1a1a" stroke="#1a1a1a" stroke-width="0.22">percentage (%)</text>
<text transform="translate(292.7,323) rotate(-90)" font-size="8.0" font-family="'Liberation Serif', serif" textLength="87.4" lengthAdjust="spacingAndGlyphs" fill="#1a1a1a" stroke="#1a1a1a" stroke-width="0.05">Flocculation dosage (g/t)</text>
<line x1="81.0" y1="491.6" x2="81.0" y2="421.7" class="gd"/>
<line x1="105.8" y1="493.3" x2="105.8" y2="423.4" class="gd"/>
<line x1="130.6" y1="495.0" x2="130.6" y2="425.1" class="gd"/>
<line x1="155.4" y1="496.8" x2="155.4" y2="426.9" class="gd"/>
<line x1="180.2" y1="498.5" x2="180.2" y2="428.6" class="gd"/>
<line x1="205.0" y1="500.3" x2="205.0" y2="430.4" class="gd"/>
<line x1="77.4" y1="491.3" x2="208.4" y2="500.5" class="gd"/>
<line x1="77.4" y1="477.3" x2="208.4" y2="486.5" class="gd"/>
<line x1="77.4" y1="463.3" x2="208.4" y2="472.5" class="gd"/>
<line x1="77.4" y1="449.4" x2="208.4" y2="458.6" class="gd"/>
<line x1="77.4" y1="435.4" x2="208.4" y2="444.6" class="gd"/>
<line x1="77.4" y1="421.4" x2="208.4" y2="430.6" class="gd"/>
<line x1="29.5" y1="516.5" x2="29.5" y2="446.6" class="gd"/>
<line x1="41.5" y1="510.2" x2="41.5" y2="440.3" class="gd"/>
<line x1="53.5" y1="503.9" x2="53.5" y2="434.0" class="gd"/>
<line x1="65.4" y1="497.6" x2="65.4" y2="427.7" class="gd"/>
<line x1="77.4" y1="491.3" x2="77.4" y2="421.4" class="gd"/>
<line x1="29.5" y1="516.5" x2="77.4" y2="491.3" class="gd"/>
<line x1="29.5" y1="502.5" x2="77.4" y2="477.3" class="gd"/>
<line x1="29.5" y1="488.5" x2="77.4" y2="463.3" class="gd"/>
<line x1="29.5" y1="474.6" x2="77.4" y2="449.4" class="gd"/>
<line x1="29.5" y1="460.6" x2="77.4" y2="435.4" class="gd"/>
<line x1="29.5" y1="446.6" x2="77.4" y2="421.4" class="gd"/>
<line x1="29.5" y1="516.5" x2="160.5" y2="525.7" class="gd"/>
<line x1="41.5" y1="510.2" x2="172.5" y2="519.4" class="gd"/>
<line x1="53.5" y1="503.9" x2="184.4" y2="513.1" class="gd"/>
<line x1="65.4" y1="497.6" x2="196.4" y2="506.8" class="gd"/>
<line x1="77.4" y1="491.3" x2="208.4" y2="500.5" class="gd"/>
<line x1="29.5" y1="516.5" x2="29.5" y2="446.6" class="bx"/>
<line x1="77.4" y1="491.3" x2="77.4" y2="421.4" class="bx"/>
<line x1="160.5" y1="525.7" x2="160.5" y2="455.8" class="bx"/>
<line x1="208.4" y1="500.5" x2="208.4" y2="430.6" class="bx"/>
<line x1="29.5" y1="516.5" x2="77.4" y2="491.3" class="bx"/>
<line x1="29.5" y1="446.6" x2="77.4" y2="421.4" class="bx"/>
<line x1="160.5" y1="525.7" x2="208.4" y2="500.5" class="bx"/>
<line x1="160.5" y1="455.8" x2="208.4" y2="430.6" class="bx"/>
<line x1="29.5" y1="516.5" x2="160.5" y2="525.7" class="bx"/>
<line x1="29.5" y1="446.6" x2="160.5" y2="455.8" class="bx"/>
<line x1="77.4" y1="491.3" x2="208.4" y2="500.5" class="bx"/>
<line x1="77.4" y1="421.4" x2="208.4" y2="430.6" class="bx"/>
<line x1="33.1" y1="516.8" x2="34.5" y2="516.0" class="tk"/>
<line x1="41.4" y1="517.3" x2="42.8" y2="516.6" class="tk"/>
<line x1="49.7" y1="517.9" x2="51.1" y2="517.2" class="tk"/>
<line x1="57.9" y1="518.5" x2="59.3" y2="517.8" class="tk"/>
<line x1="66.2" y1="519.1" x2="67.6" y2="518.3" class="tk"/>
<line x1="74.4" y1="519.7" x2="75.9" y2="518.9" class="tk"/>
<line x1="82.7" y1="520.2" x2="84.1" y2="519.5" class="tk"/>
<line x1="91.0" y1="520.8" x2="92.4" y2="520.1" class="tk"/>
<line x1="99.2" y1="521.4" x2="100.6" y2="520.7" class="tk"/>
<line x1="107.5" y1="522.0" x2="108.9" y2="521.2" class="tk"/>
<line x1="115.8" y1="522.6" x2="117.2" y2="521.8" class="tk"/>
<line x1="124.0" y1="523.1" x2="125.4" y2="522.4" class="tk"/>
<line x1="132.3" y1="523.7" x2="133.7" y2="523.0" class="tk"/>
<line x1="140.5" y1="524.3" x2="142.0" y2="523.6" class="tk"/>
<line x1="148.8" y1="524.9" x2="150.2" y2="524.1" class="tk"/>
<line x1="157.1" y1="525.5" x2="158.5" y2="524.7" class="tk"/>
<line x1="29.5" y1="511.8" x2="31.1" y2="511.8" class="tk"/>
<line x1="77.4" y1="486.6" x2="79.0" y2="486.6" class="tk"/>
<line x1="208.4" y1="495.8" x2="206.8" y2="495.8" class="tk"/>
<line x1="160.5" y1="521.0" x2="158.9" y2="521.0" class="tk"/>
<line x1="29.5" y1="507.2" x2="31.1" y2="507.2" class="tk"/>
<line x1="77.4" y1="482.0" x2="79.0" y2="482.0" class="tk"/>
<line x1="208.4" y1="491.2" x2="206.8" y2="491.2" class="tk"/>
<line x1="160.5" y1="516.4" x2="158.9" y2="516.4" class="tk"/>
<line x1="29.5" y1="502.5" x2="31.1" y2="502.5" class="tk"/>
<line x1="77.4" y1="477.3" x2="79.0" y2="477.3" class="tk"/>
<line x1="208.4" y1="486.5" x2="206.8" y2="486.5" class="tk"/>
<line x1="160.5" y1="511.7" x2="158.9" y2="511.7" class="tk"/>
<line x1="29.5" y1="497.9" x2="31.1" y2="497.9" class="tk"/>
<line x1="77.4" y1="472.7" x2="79.0" y2="472.7" class="tk"/>
<line x1="208.4" y1="481.9" x2="206.8" y2="481.9" class="tk"/>
<line x1="160.5" y1="507.1" x2="158.9" y2="507.1" class="tk"/>
<line x1="29.5" y1="493.2" x2="31.1" y2="493.2" class="tk"/>
<line x1="77.4" y1="468.0" x2="79.0" y2="468.0" class="tk"/>
<line x1="208.4" y1="477.2" x2="206.8" y2="477.2" class="tk"/>
<line x1="160.5" y1="502.4" x2="158.9" y2="502.4" class="tk"/>
<line x1="29.5" y1="488.5" x2="31.1" y2="488.5" class="tk"/>
<line x1="77.4" y1="463.3" x2="79.0" y2="463.3" class="tk"/>
<line x1="208.4" y1="472.5" x2="206.8" y2="472.5" class="tk"/>
<line x1="160.5" y1="497.7" x2="158.9" y2="497.7" class="tk"/>
<line x1="29.5" y1="483.9" x2="31.1" y2="483.9" class="tk"/>
<line x1="77.4" y1="458.7" x2="79.0" y2="458.7" class="tk"/>
<line x1="208.4" y1="467.9" x2="206.8" y2="467.9" class="tk"/>
<line x1="160.5" y1="493.1" x2="158.9" y2="493.1" class="tk"/>
<line x1="29.5" y1="479.2" x2="31.1" y2="479.2" class="tk"/>
<line x1="77.4" y1="454.0" x2="79.0" y2="454.0" class="tk"/>
<line x1="208.4" y1="463.2" x2="206.8" y2="463.2" class="tk"/>
<line x1="160.5" y1="488.4" x2="158.9" y2="488.4" class="tk"/>
<line x1="29.5" y1="474.6" x2="31.1" y2="474.6" class="tk"/>
<line x1="77.4" y1="449.4" x2="79.0" y2="449.4" class="tk"/>
<line x1="208.4" y1="458.6" x2="206.8" y2="458.6" class="tk"/>
<line x1="160.5" y1="483.8" x2="158.9" y2="483.8" class="tk"/>
<line x1="29.5" y1="469.9" x2="31.1" y2="469.9" class="tk"/>
<line x1="77.4" y1="444.7" x2="79.0" y2="444.7" class="tk"/>
<line x1="208.4" y1="453.9" x2="206.8" y2="453.9" class="tk"/>
<line x1="160.5" y1="479.1" x2="158.9" y2="479.1" class="tk"/>
<line x1="29.5" y1="465.2" x2="31.1" y2="465.2" class="tk"/>
<line x1="77.4" y1="440.0" x2="79.0" y2="440.0" class="tk"/>
<line x1="208.4" y1="449.2" x2="206.8" y2="449.2" class="tk"/>
<line x1="160.5" y1="474.4" x2="158.9" y2="474.4" class="tk"/>
<line x1="29.5" y1="460.6" x2="31.1" y2="460.6" class="tk"/>
<line x1="77.4" y1="435.4" x2="79.0" y2="435.4" class="tk"/>
<line x1="208.4" y1="444.6" x2="206.8" y2="444.6" class="tk"/>
<line x1="160.5" y1="469.8" x2="158.9" y2="469.8" class="tk"/>
<line x1="29.5" y1="455.9" x2="31.1" y2="455.9" class="tk"/>
<line x1="77.4" y1="430.7" x2="79.0" y2="430.7" class="tk"/>
<line x1="208.4" y1="439.9" x2="206.8" y2="439.9" class="tk"/>
<line x1="160.5" y1="465.1" x2="158.9" y2="465.1" class="tk"/>
<line x1="29.5" y1="451.3" x2="31.1" y2="451.3" class="tk"/>
<line x1="77.4" y1="426.1" x2="79.0" y2="426.1" class="tk"/>
<line x1="208.4" y1="435.3" x2="206.8" y2="435.3" class="tk"/>
<line x1="160.5" y1="460.5" x2="158.9" y2="460.5" class="tk"/>
<rect x="58.0" y="430.7" width="4.0" height="4.0" fill="#fdc636"/>
<rect x="59.8" y="429.8" width="4.0" height="4.0" fill="#fdc636"/>
<rect x="61.7" y="428.9" width="4.0" height="4.0" fill="#fdc636"/>
<rect x="63.5" y="428.0" width="4.0" height="4.0" fill="#fdc636"/>
<rect x="68.9" y="425.3" width="4.0" height="4.0" fill="#008000"/>
<rect x="73.5" y="422.2" width="4.0" height="4.0" fill="#008000"/>
<rect x="77.1" y="420.7" width="4.0" height="4.0" fill="#008000"/>
<rect x="98.0" y="434.9" width="4.0" height="4.0" fill="#ff0000"/>
<rect x="100.7" y="433.1" width="4.0" height="4.0" fill="#fdc636"/>
<rect x="102.4" y="432.1" width="4.0" height="4.0" fill="#fdc636"/>
<rect x="104.0" y="431.1" width="4.0" height="4.0" fill="#fdc636"/>
<rect x="105.7" y="430.1" width="4.0" height="4.0" fill="#fdc636"/>
<rect x="107.4" y="429.1" width="4.0" height="4.0" fill="#fdc636"/>
<rect x="109.0" y="428.1" width="4.0" height="4.0" fill="#fdc636"/>
<rect x="110.7" y="427.1" width="4.0" height="4.0" fill="#fdc636"/>
<rect x="114.0" y="425.8" width="4.0" height="4.0" fill="#008000"/>
<rect x="71.6" y="446.5" width="4.0" height="4.0" fill="#008000"/>
<rect x="73.5" y="445.8" width="4.0" height="4.0" fill="#008000"/>
<rect x="59.8" y="453.1" width="4.0" height="4.0" fill="#fdc636"/>
<rect x="61.8" y="452.2" width="4.0" height="4.0" fill="#fdc636"/>
<rect x="63.9" y="451.3" width="4.0" height="4.0" fill="#fdc636"/>
<rect x="66.0" y="450.4" width="4.0" height="4.0" fill="#fdc636"/>
<rect x="68.0" y="449.5" width="4.0" height="4.0" fill="#fdc636"/>
<rect x="53.5" y="456.2" width="4.0" height="4.0" fill="#ff0000"/>
<rect x="99.8" y="456.7" width="4.0" height="4.0" fill="#ff0000"/>
<rect x="92.2" y="460.7" width="4.0" height="4.0" fill="#ff0000"/>
<rect x="104.4" y="454.4" width="4.0" height="4.0" fill="#fdc636"/>
<rect x="106.2" y="453.5" width="4.0" height="4.0" fill="#fdc636"/>
<rect x="108.0" y="452.5" width="4.0" height="4.0" fill="#fdc636"/>
<rect x="109.8" y="451.6" width="4.0" height="4.0" fill="#fdc636"/>
<rect x="134.8" y="439.8" width="4.0" height="4.0" fill="#ff0000"/>
<rect x="138.5" y="438.0" width="4.0" height="4.0" fill="#fdc636"/>
<rect x="140.0" y="437.2" width="4.0" height="4.0" fill="#fdc636"/>
<rect x="141.5" y="436.4" width="4.0" height="4.0" fill="#fdc636"/>
<rect x="143.0" y="435.6" width="4.0" height="4.0" fill="#fdc636"/>
<rect x="153.4" y="430.2" width="4.0" height="4.0" fill="#008000"/>
<rect x="179.4" y="440.7" width="4.0" height="4.0" fill="#fdc636"/>
<rect x="181.0" y="439.8" width="4.0" height="4.0" fill="#fdc636"/>
<rect x="182.6" y="438.9" width="4.0" height="4.0" fill="#fdc636"/>
<rect x="184.1" y="438.0" width="4.0" height="4.0" fill="#fdc636"/>
<rect x="185.7" y="437.1" width="4.0" height="4.0" fill="#fdc636"/>
<rect x="192.1" y="434.4" width="4.0" height="4.0" fill="#fdc636"/>
<rect x="150.8" y="455.3" width="4.0" height="4.0" fill="#fdc636"/>
<rect x="138.5" y="461.6" width="4.0" height="4.0" fill="#fdc636"/>
<rect x="140.0" y="460.8" width="4.0" height="4.0" fill="#fdc636"/>
<rect x="141.5" y="460.1" width="4.0" height="4.0" fill="#fdc636"/>
<rect x="143.0" y="459.3" width="4.0" height="4.0" fill="#fdc636"/>
<rect x="133.4" y="464.0" width="4.0" height="4.0" fill="#ff0000"/>
<rect x="191.5" y="457.5" width="4.0" height="4.0" fill="#fdc636"/>
<rect x="167.5" y="470.7" width="4.0" height="4.0" fill="#ff0000"/>
<rect x="173.0" y="467.5" width="4.0" height="4.0" fill="#ff0000"/>
<rect x="72.2" y="470.4" width="4.0" height="4.0" fill="#008000"/>
<rect x="64.9" y="474.0" width="4.0" height="4.0" fill="#fdc636"/>
<rect x="58.9" y="476.7" width="4.0" height="4.0" fill="#fdc636"/>
<rect x="51.6" y="480.7" width="4.0" height="4.0" fill="#fdc636"/>
<rect x="48.0" y="482.5" width="4.0" height="4.0" fill="#ff0000"/>
<rect x="44.0" y="484.9" width="4.0" height="4.0" fill="#ff0000"/>
<rect x="103.5" y="478.0" width="4.0" height="4.0" fill="#ff0000"/>
<rect x="50.4" y="504.9" width="4.0" height="4.0" fill="#ff0000"/>
<rect x="54.4" y="503.1" width="4.0" height="4.0" fill="#fdc636"/>
<rect x="56.2" y="502.2" width="4.0" height="4.0" fill="#fdc636"/>
<rect x="58.0" y="501.3" width="4.0" height="4.0" fill="#fdc636"/>
<rect x="100.7" y="503.1" width="4.0" height="4.0" fill="#fdc636"/>
<rect x="102.5" y="502.1" width="4.0" height="4.0" fill="#fdc636"/>
<rect x="104.3" y="501.0" width="4.0" height="4.0" fill="#fdc636"/>
<rect x="106.2" y="499.9" width="4.0" height="4.0" fill="#fdc636"/>
<rect x="108.0" y="498.9" width="4.0" height="4.0" fill="#fdc636"/>
<rect x="129.7" y="488.9" width="4.0" height="4.0" fill="#ff0000"/>
<rect x="133.0" y="487.1" width="4.0" height="4.0" fill="#ff0000"/>
<rect x="138.5" y="484.4" width="4.0" height="4.0" fill="#fdc636"/>
<rect x="140.3" y="483.3" width="4.0" height="4.0" fill="#fdc636"/>
<rect x="142.1" y="482.3" width="4.0" height="4.0" fill="#fdc636"/>
<rect x="143.9" y="481.2" width="4.0" height="4.0" fill="#fdc636"/>
<rect x="145.7" y="480.2" width="4.0" height="4.0" fill="#fdc636"/>
<rect x="174.8" y="489.8" width="4.0" height="4.0" fill="#ff0000"/>
<rect x="177.5" y="488.5" width="4.0" height="4.0" fill="#fdc636"/>
<rect x="181.7" y="486.5" width="4.0" height="4.0" fill="#ff0000"/>
<rect x="191.5" y="480.7" width="4.0" height="4.0" fill="#fdc636"/>
<rect x="160.6" y="497.1" width="4.0" height="4.0" fill="#ff0000"/>
<rect x="142.5" y="505.6" width="4.0" height="4.0" fill="#fdc636"/>
<rect x="127.5" y="513.5" width="4.0" height="4.0" fill="#ff0000"/>
<rect x="133.9" y="510.2" width="4.0" height="4.0" fill="#ff0000"/>
<rect x="192.1" y="504.4" width="4.0" height="4.0" fill="#fdc636"/>
<rect x="157.5" y="522.0" width="4.0" height="4.0" fill="#ff0000"/>
<rect x="161.6" y="519.8" width="4.0" height="4.0" fill="#ff0000"/>
<rect x="163.6" y="519.0" width="4.0" height="4.0" fill="#ff0000"/>
<rect x="168.0" y="517.0" width="4.0" height="4.0" fill="#ff0000"/>
<text x="23.5" y="449.6" font-size="8.3" font-family="'Liberation Sans', sans-serif" text-anchor="middle" textLength="7.5" lengthAdjust="spacingAndGlyphs" fill="#111" stroke="#111" stroke-width="0.15">25</text>
<text x="23.5" y="463.5" font-size="8.3" font-family="'Liberation Sans', sans-serif" text-anchor="middle" textLength="7.5" lengthAdjust="spacingAndGlyphs" fill="#111" stroke="#111" stroke-width="0.15">22</text>
<text x="23.5" y="477.3" font-size="8.3" font-family="'Liberation Sans', sans-serif" text-anchor="middle" textLength="7.5" lengthAdjust="spacingAndGlyphs" fill="#111" stroke="#111" stroke-width="0.15">19</text>
<text x="23.5" y="491.2" font-size="8.3" font-family="'Liberation Sans', sans-serif" text-anchor="middle" textLength="7.5" lengthAdjust="spacingAndGlyphs" fill="#111" stroke="#111" stroke-width="0.15">16</text>
<text x="23.5" y="505.0" font-size="8.3" font-family="'Liberation Sans', sans-serif" text-anchor="middle" textLength="7.5" lengthAdjust="spacingAndGlyphs" fill="#111" stroke="#111" stroke-width="0.15">13</text>
<text x="23.5" y="518.9" font-size="8.3" font-family="'Liberation Sans', sans-serif" text-anchor="middle" textLength="7.5" lengthAdjust="spacingAndGlyphs" fill="#111" stroke="#111" stroke-width="0.15">10</text>
<text x="30.5" y="525.9" font-size="8.3" font-family="'Liberation Sans', sans-serif" text-anchor="middle" textLength="7.5" lengthAdjust="spacingAndGlyphs" fill="#111" stroke="#111" stroke-width="0.15">15</text>
<text x="56.0" y="528.0" font-size="8.3" font-family="'Liberation Sans', sans-serif" text-anchor="middle" textLength="7.5" lengthAdjust="spacingAndGlyphs" fill="#111" stroke="#111" stroke-width="0.15">18</text>
<text x="80.2" y="530.6" font-size="8.3" font-family="'Liberation Sans', sans-serif" text-anchor="middle" textLength="7.5" lengthAdjust="spacingAndGlyphs" fill="#111" stroke="#111" stroke-width="0.15">21</text>
<text x="105.6" y="532.3" font-size="8.3" font-family="'Liberation Sans', sans-serif" text-anchor="middle" textLength="7.5" lengthAdjust="spacingAndGlyphs" fill="#111" stroke="#111" stroke-width="0.15">24</text>
<text x="130.3" y="533.6" font-size="8.3" font-family="'Liberation Sans', sans-serif" text-anchor="middle" textLength="7.5" lengthAdjust="spacingAndGlyphs" fill="#111" stroke="#111" stroke-width="0.15">27</text>
<text x="155.5" y="534.9" font-size="8.3" font-family="'Liberation Sans', sans-serif" text-anchor="middle" textLength="7.5" lengthAdjust="spacingAndGlyphs" fill="#111" stroke="#111" stroke-width="0.15">30</text>
<text x="177.6" y="531.6" font-size="8.3" font-family="'Liberation Sans', sans-serif" text-anchor="middle" textLength="9.6" lengthAdjust="spacingAndGlyphs" fill="#111" stroke="#111" stroke-width="0.15">1.9</text>
<text x="187.8" y="525.5" font-size="8.3" font-family="'Liberation Sans', sans-serif" text-anchor="middle" textLength="9.6" lengthAdjust="spacingAndGlyphs" fill="#111" stroke="#111" stroke-width="0.15">2.9</text>
<text x="198.0" y="519.1" font-size="8.3" font-family="'Liberation Sans', sans-serif" text-anchor="middle" textLength="9.6" lengthAdjust="spacingAndGlyphs" fill="#111" stroke="#111" stroke-width="0.15">3.9</text>
<text x="209.0" y="512.7" font-size="8.3" font-family="'Liberation Sans', sans-serif" text-anchor="middle" textLength="9.6" lengthAdjust="spacingAndGlyphs" fill="#111" stroke="#111" stroke-width="0.15">4.9</text>
<text x="219.6" y="506.9" font-size="8.3" font-family="'Liberation Sans', sans-serif" text-anchor="middle" textLength="9.6" lengthAdjust="spacingAndGlyphs" fill="#111" stroke="#111" stroke-width="0.15">5.9</text>
<text x="39.8" y="399.7" font-size="11.5" font-family="'Liberation Serif', serif" textLength="167.7" lengthAdjust="spacingAndGlyphs" fill="#1a1a1a" stroke="#1a1a1a" stroke-width="0.25">Model 3 dispersion&#160; diagram (3C)</text>
<text x="49.6" y="546.0" font-size="9" font-family="'Liberation Serif', serif" textLength="95.7" lengthAdjust="spacingAndGlyphs" fill="#1a1a1a" stroke="#1a1a1a" stroke-width="0.22">Initial solid percentage (%)</text>
<text x="206.9" y="529.8" font-size="9" font-family="'Liberation Serif', serif" textLength="59.0" lengthAdjust="spacingAndGlyphs" fill="#1a1a1a" stroke="#1a1a1a" stroke-width="0.22">Repose angle (%)</text>
<text transform="translate(12.3,516.7) rotate(-90)" font-size="8.0" font-family="'Liberation Serif', serif" textLength="87.4" lengthAdjust="spacingAndGlyphs" fill="#1a1a1a" stroke="#1a1a1a" stroke-width="0.05">Flocculation dosage (g/t)</text>
<line x1="366.4" y1="491.1" x2="366.4" y2="421.2" class="gd"/>
<line x1="391.2" y1="492.9" x2="391.2" y2="423.0" class="gd"/>
<line x1="416.0" y1="494.7" x2="416.0" y2="424.8" class="gd"/>
<line x1="440.9" y1="496.5" x2="440.9" y2="426.6" class="gd"/>
<line x1="465.7" y1="498.3" x2="465.7" y2="428.4" class="gd"/>
<line x1="490.5" y1="500.1" x2="490.5" y2="430.2" class="gd"/>
<line x1="362.8" y1="490.8" x2="493.9" y2="500.4" class="gd"/>
<line x1="362.8" y1="476.8" x2="493.9" y2="486.4" class="gd"/>
<line x1="362.8" y1="462.8" x2="493.9" y2="472.4" class="gd"/>
<line x1="362.8" y1="448.9" x2="493.9" y2="458.5" class="gd"/>
<line x1="362.8" y1="434.9" x2="493.9" y2="444.5" class="gd"/>
<line x1="362.8" y1="420.9" x2="493.9" y2="430.5" class="gd"/>
<line x1="314.5" y1="515.7" x2="314.5" y2="445.8" class="gd"/>
<line x1="326.6" y1="509.5" x2="326.6" y2="439.6" class="gd"/>
<line x1="338.6" y1="503.3" x2="338.6" y2="433.4" class="gd"/>
<line x1="350.7" y1="497.0" x2="350.7" y2="427.1" class="gd"/>
<line x1="362.8" y1="490.8" x2="362.8" y2="420.9" class="gd"/>
<line x1="314.5" y1="515.7" x2="362.8" y2="490.8" class="gd"/>
<line x1="314.5" y1="501.7" x2="362.8" y2="476.8" class="gd"/>
<line x1="314.5" y1="487.7" x2="362.8" y2="462.8" class="gd"/>
<line x1="314.5" y1="473.8" x2="362.8" y2="448.9" class="gd"/>
<line x1="314.5" y1="459.8" x2="362.8" y2="434.9" class="gd"/>
<line x1="314.5" y1="445.8" x2="362.8" y2="420.9" class="gd"/>
<line x1="314.5" y1="515.7" x2="445.6" y2="525.3" class="gd"/>
<line x1="326.6" y1="509.5" x2="457.7" y2="519.1" class="gd"/>
<line x1="338.6" y1="503.3" x2="469.8" y2="512.9" class="gd"/>
<line x1="350.7" y1="497.0" x2="481.8" y2="506.6" class="gd"/>
<line x1="362.8" y1="490.8" x2="493.9" y2="500.4" class="gd"/>
<line x1="314.5" y1="515.7" x2="314.5" y2="445.8" class="bx"/>
<line x1="362.8" y1="490.8" x2="362.8" y2="420.9" class="bx"/>
<line x1="445.6" y1="525.3" x2="445.6" y2="455.4" class="bx"/>
<line x1="493.9" y1="500.4" x2="493.9" y2="430.5" class="bx"/>
<line x1="314.5" y1="515.7" x2="362.8" y2="490.8" class="bx"/>
<line x1="314.5" y1="445.8" x2="362.8" y2="420.9" class="bx"/>
<line x1="445.6" y1="525.3" x2="493.9" y2="500.4" class="bx"/>
<line x1="445.6" y1="455.4" x2="493.9" y2="430.5" class="bx"/>
<line x1="314.5" y1="515.7" x2="445.6" y2="525.3" class="bx"/>
<line x1="314.5" y1="445.8" x2="445.6" y2="455.4" class="bx"/>
<line x1="362.8" y1="490.8" x2="493.9" y2="500.4" class="bx"/>
<line x1="362.8" y1="420.9" x2="493.9" y2="430.5" class="bx"/>
<line x1="318.1" y1="516.0" x2="319.6" y2="515.2" class="tk"/>
<line x1="326.4" y1="516.6" x2="327.8" y2="515.8" class="tk"/>
<line x1="334.7" y1="517.2" x2="336.1" y2="516.4" class="tk"/>
<line x1="342.9" y1="517.8" x2="344.4" y2="517.0" class="tk"/>
<line x1="351.2" y1="518.4" x2="352.6" y2="517.7" class="tk"/>
<line x1="359.5" y1="519.0" x2="360.9" y2="518.3" class="tk"/>
<line x1="367.7" y1="519.6" x2="369.2" y2="518.9" class="tk"/>
<line x1="376.0" y1="520.2" x2="377.4" y2="519.5" class="tk"/>
<line x1="384.3" y1="520.8" x2="385.7" y2="520.1" class="tk"/>
<line x1="392.6" y1="521.4" x2="394.0" y2="520.7" class="tk"/>
<line x1="400.8" y1="522.0" x2="402.2" y2="521.3" class="tk"/>
<line x1="409.1" y1="522.6" x2="410.5" y2="521.9" class="tk"/>
<line x1="417.4" y1="523.2" x2="418.8" y2="522.5" class="tk"/>
<line x1="425.6" y1="523.8" x2="427.1" y2="523.1" class="tk"/>
<line x1="433.9" y1="524.4" x2="435.3" y2="523.7" class="tk"/>
<line x1="442.2" y1="525.0" x2="443.6" y2="524.3" class="tk"/>
<line x1="314.5" y1="511.0" x2="316.1" y2="511.0" class="tk"/>
<line x1="362.8" y1="486.1" x2="364.4" y2="486.1" class="tk"/>
<line x1="493.9" y1="495.7" x2="492.3" y2="495.7" class="tk"/>
<line x1="445.6" y1="520.6" x2="444.0" y2="520.6" class="tk"/>
<line x1="314.5" y1="506.4" x2="316.1" y2="506.4" class="tk"/>
<line x1="362.8" y1="481.5" x2="364.4" y2="481.5" class="tk"/>
<line x1="493.9" y1="491.1" x2="492.3" y2="491.1" class="tk"/>
<line x1="445.6" y1="516.0" x2="444.0" y2="516.0" class="tk"/>
<line x1="314.5" y1="501.7" x2="316.1" y2="501.7" class="tk"/>
<line x1="362.8" y1="476.8" x2="364.4" y2="476.8" class="tk"/>
<line x1="493.9" y1="486.4" x2="492.3" y2="486.4" class="tk"/>
<line x1="445.6" y1="511.3" x2="444.0" y2="511.3" class="tk"/>
<line x1="314.5" y1="497.1" x2="316.1" y2="497.1" class="tk"/>
<line x1="362.8" y1="472.2" x2="364.4" y2="472.2" class="tk"/>
<line x1="493.9" y1="481.8" x2="492.3" y2="481.8" class="tk"/>
<line x1="445.6" y1="506.7" x2="444.0" y2="506.7" class="tk"/>
<line x1="314.5" y1="492.4" x2="316.1" y2="492.4" class="tk"/>
<line x1="362.8" y1="467.5" x2="364.4" y2="467.5" class="tk"/>
<line x1="493.9" y1="477.1" x2="492.3" y2="477.1" class="tk"/>
<line x1="445.6" y1="502.0" x2="444.0" y2="502.0" class="tk"/>
<line x1="314.5" y1="487.7" x2="316.1" y2="487.7" class="tk"/>
<line x1="362.8" y1="462.8" x2="364.4" y2="462.8" class="tk"/>
<line x1="493.9" y1="472.4" x2="492.3" y2="472.4" class="tk"/>
<line x1="445.6" y1="497.3" x2="444.0" y2="497.3" class="tk"/>
<line x1="314.5" y1="483.1" x2="316.1" y2="483.1" class="tk"/>
<line x1="362.8" y1="458.2" x2="364.4" y2="458.2" class="tk"/>
<line x1="493.9" y1="467.8" x2="492.3" y2="467.8" class="tk"/>
<line x1="445.6" y1="492.7" x2="444.0" y2="492.7" class="tk"/>
<line x1="314.5" y1="478.4" x2="316.1" y2="478.4" class="tk"/>
<line x1="362.8" y1="453.5" x2="364.4" y2="453.5" class="tk"/>
<line x1="493.9" y1="463.1" x2="492.3" y2="463.1" class="tk"/>
<line x1="445.6" y1="488.0" x2="444.0" y2="488.0" class="tk"/>
<line x1="314.5" y1="473.8" x2="316.1" y2="473.8" class="tk"/>
<line x1="362.8" y1="448.9" x2="364.4" y2="448.9" class="tk"/>
<line x1="493.9" y1="458.5" x2="492.3" y2="458.5" class="tk"/>
<line x1="445.6" y1="483.4" x2="444.0" y2="483.4" class="tk"/>
<line x1="314.5" y1="469.1" x2="316.1" y2="469.1" class="tk"/>
<line x1="362.8" y1="444.2" x2="364.4" y2="444.2" class="tk"/>
<line x1="493.9" y1="453.8" x2="492.3" y2="453.8" class="tk"/>
<line x1="445.6" y1="478.7" x2="444.0" y2="478.7" class="tk"/>
<line x1="314.5" y1="464.4" x2="316.1" y2="464.4" class="tk"/>
<line x1="362.8" y1="439.5" x2="364.4" y2="439.5" class="tk"/>
<line x1="493.9" y1="449.1" x2="492.3" y2="449.1" class="tk"/>
<line x1="445.6" y1="474.0" x2="444.0" y2="474.0" class="tk"/>
<line x1="314.5" y1="459.8" x2="316.1" y2="459.8" class="tk"/>
<line x1="362.8" y1="434.9" x2="364.4" y2="434.9" class="tk"/>
<line x1="493.9" y1="444.5" x2="492.3" y2="444.5" class="tk"/>
<line x1="445.6" y1="469.4" x2="444.0" y2="469.4" class="tk"/>
<line x1="314.5" y1="455.1" x2="316.1" y2="455.1" class="tk"/>
<line x1="362.8" y1="430.2" x2="364.4" y2="430.2" class="tk"/>
<line x1="493.9" y1="439.8" x2="492.3" y2="439.8" class="tk"/>
<line x1="445.6" y1="464.7" x2="444.0" y2="464.7" class="tk"/>
<line x1="314.5" y1="450.5" x2="316.1" y2="450.5" class="tk"/>
<line x1="362.8" y1="425.6" x2="364.4" y2="425.6" class="tk"/>
<line x1="493.9" y1="435.2" x2="492.3" y2="435.2" class="tk"/>
<line x1="445.6" y1="460.1" x2="444.0" y2="460.1" class="tk"/>
<rect x="343.8" y="429.8" width="4.0" height="4.0" fill="#ff8000"/>
<rect x="348.0" y="427.6" width="4.0" height="4.0" fill="#fdc636"/>
<rect x="354.4" y="424.4" width="4.0" height="4.0" fill="#00f02a"/>
<rect x="358.9" y="421.1" width="4.0" height="4.0" fill="#008000"/>
<rect x="362.5" y="420.4" width="4.0" height="4.0" fill="#008000"/>
<rect x="382.5" y="433.8" width="4.0" height="4.0" fill="#ff8000"/>
<rect x="384.0" y="433.1" width="4.0" height="4.0" fill="#ff8000"/>
<rect x="385.6" y="432.3" width="4.0" height="4.0" fill="#ff8000"/>
<rect x="387.1" y="431.6" width="4.0" height="4.0" fill="#ff8000"/>
<rect x="389.8" y="429.8" width="4.0" height="4.0" fill="#fdc636"/>
<rect x="391.1" y="429.1" width="4.0" height="4.0" fill="#fdc636"/>
<rect x="392.5" y="428.4" width="4.0" height="4.0" fill="#fdc636"/>
<rect x="396.2" y="426.2" width="4.0" height="4.0" fill="#00f02a"/>
<rect x="397.5" y="425.8" width="4.0" height="4.0" fill="#00f02a"/>
<rect x="399.4" y="425.3" width="4.0" height="4.0" fill="#00f02a"/>
<rect x="357.1" y="445.3" width="4.0" height="4.0" fill="#00f02a"/>
<rect x="358.9" y="444.4" width="4.0" height="4.0" fill="#00f02a"/>
<rect x="352.5" y="448.9" width="4.0" height="4.0" fill="#00f02a"/>
<rect x="346.2" y="451.6" width="4.0" height="4.0" fill="#fdc636"/>
<rect x="348.9" y="450.2" width="4.0" height="4.0" fill="#fdc636"/>
<rect x="339.5" y="455.6" width="4.0" height="4.0" fill="#ff8000"/>
<rect x="377.6" y="460.4" width="4.0" height="4.0" fill="#ff0000"/>
<rect x="384.9" y="456.2" width="4.0" height="4.0" fill="#ff8000"/>
<rect x="390.7" y="452.5" width="4.0" height="4.0" fill="#fdc636"/>
<rect x="395.3" y="451.3" width="4.0" height="4.0" fill="#00f02a"/>
<rect x="419.9" y="439.3" width="4.0" height="4.0" fill="#ff8000"/>
<rect x="422.5" y="437.5" width="4.0" height="4.0" fill="#ff8000"/>
<rect x="427.2" y="435.3" width="4.0" height="4.0" fill="#fdc636"/>
<rect x="428.5" y="434.9" width="4.0" height="4.0" fill="#fdc636"/>
<rect x="438.5" y="429.5" width="4.0" height="4.0" fill="#00f02a"/>
<rect x="465.7" y="440.4" width="4.0" height="4.0" fill="#fdc636"/>
<rect x="468.5" y="438.5" width="4.0" height="4.0" fill="#ff8000"/>
<rect x="470.3" y="437.5" width="4.0" height="4.0" fill="#ff8000"/>
<rect x="477.0" y="433.8" width="4.0" height="4.0" fill="#fdc636"/>
<rect x="435.7" y="454.4" width="4.0" height="4.0" fill="#00f02a"/>
<rect x="418.5" y="462.9" width="4.0" height="4.0" fill="#ff8000"/>
<rect x="423.5" y="460.4" width="4.0" height="4.0" fill="#ff8000"/>
<rect x="426.6" y="458.5" width="4.0" height="4.0" fill="#fdc636"/>
<rect x="476.6" y="456.7" width="4.0" height="4.0" fill="#fdc636"/>
<rect x="453.0" y="469.8" width="4.0" height="4.0" fill="#ff8000"/>
<rect x="458.5" y="466.7" width="4.0" height="4.0" fill="#ff8000"/>
<rect x="357.6" y="469.3" width="4.0" height="4.0" fill="#00f02a"/>
<rect x="349.8" y="473.5" width="4.0" height="4.0" fill="#fdc636"/>
<rect x="344.4" y="476.2" width="4.0" height="4.0" fill="#fdc636"/>
<rect x="337.1" y="479.8" width="4.0" height="4.0" fill="#ff8000"/>
<rect x="333.5" y="481.6" width="4.0" height="4.0" fill="#ff8000"/>
<rect x="329.3" y="484.4" width="4.0" height="4.0" fill="#ff0000"/>
<rect x="388.9" y="477.6" width="4.0" height="4.0" fill="#ff8000"/>
<rect x="335.3" y="503.8" width="4.0" height="4.0" fill="#ff8000"/>
<rect x="338.9" y="502.5" width="4.0" height="4.0" fill="#ff8000"/>
<rect x="342.0" y="500.7" width="4.0" height="4.0" fill="#fdc636"/>
<rect x="386.2" y="502.0" width="4.0" height="4.0" fill="#fdc636"/>
<rect x="387.6" y="501.4" width="4.0" height="4.0" fill="#fdc636"/>
<rect x="389.0" y="500.7" width="4.0" height="4.0" fill="#fdc636"/>
<rect x="391.6" y="499.5" width="4.0" height="4.0" fill="#ff8000"/>
<rect x="415.2" y="488.0" width="4.0" height="4.0" fill="#ff8000"/>
<rect x="418.1" y="486.7" width="4.0" height="4.0" fill="#ff8000"/>
<rect x="423.5" y="483.5" width="4.0" height="4.0" fill="#fdc636"/>
<rect x="425.3" y="482.7" width="4.0" height="4.0" fill="#fdc636"/>
<rect x="427.1" y="481.9" width="4.0" height="4.0" fill="#fdc636"/>
<rect x="429.0" y="481.0" width="4.0" height="4.0" fill="#fdc636"/>
<rect x="430.8" y="480.2" width="4.0" height="4.0" fill="#fdc636"/>
<rect x="460.3" y="489.3" width="4.0" height="4.0" fill="#ff8000"/>
<rect x="466.6" y="486.2" width="4.0" height="4.0" fill="#ff8000"/>
<rect x="477.0" y="480.7" width="4.0" height="4.0" fill="#fdc636"/>
<rect x="446.1" y="496.5" width="4.0" height="4.0" fill="#ff0000"/>
<rect x="427.9" y="505.3" width="4.0" height="4.0" fill="#fdc636"/>
<rect x="419.4" y="509.8" width="4.0" height="4.0" fill="#ff8000"/>
<rect x="413.0" y="512.5" width="4.0" height="4.0" fill="#ff0000"/>
<rect x="477.0" y="503.8" width="4.0" height="4.0" fill="#fdc636"/>
<rect x="443.2" y="522.3" width="4.0" height="4.0" fill="#ff0000"/>
<rect x="447.6" y="519.4" width="4.0" height="4.0" fill="#ff0000"/>
<rect x="452.5" y="517.0" width="4.0" height="4.0" fill="#ff0000"/>
<text x="308.5" y="448.9" font-size="8.3" font-family="'Liberation Sans', sans-serif" text-anchor="middle" textLength="7.5" lengthAdjust="spacingAndGlyphs" fill="#111" stroke="#111" stroke-width="0.15">25</text>
<text x="308.5" y="462.8" font-size="8.3" font-family="'Liberation Sans', sans-serif" text-anchor="middle" textLength="7.5" lengthAdjust="spacingAndGlyphs" fill="#111" stroke="#111" stroke-width="0.15">22</text>
<text x="308.5" y="476.7" font-size="8.3" font-family="'Liberation Sans', sans-serif" text-anchor="middle" textLength="7.5" lengthAdjust="spacingAndGlyphs" fill="#111" stroke="#111" stroke-width="0.15">19</text>
<text x="308.5" y="490.6" font-size="8.3" font-family="'Liberation Sans', sans-serif" text-anchor="middle" textLength="7.5" lengthAdjust="spacingAndGlyphs" fill="#111" stroke="#111" stroke-width="0.15">16</text>
<text x="308.5" y="504.5" font-size="8.3" font-family="'Liberation Sans', sans-serif" text-anchor="middle" textLength="7.5" lengthAdjust="spacingAndGlyphs" fill="#111" stroke="#111" stroke-width="0.15">13</text>
<text x="308.5" y="518.4" font-size="8.3" font-family="'Liberation Sans', sans-serif" text-anchor="middle" textLength="7.5" lengthAdjust="spacingAndGlyphs" fill="#111" stroke="#111" stroke-width="0.15">10</text>
<text x="316.0" y="525.4" font-size="8.3" font-family="'Liberation Sans', sans-serif" text-anchor="middle" textLength="7.5" lengthAdjust="spacingAndGlyphs" fill="#111" stroke="#111" stroke-width="0.15">15</text>
<text x="341.0" y="527.5" font-size="8.3" font-family="'Liberation Sans', sans-serif" text-anchor="middle" textLength="7.5" lengthAdjust="spacingAndGlyphs" fill="#111" stroke="#111" stroke-width="0.15">18</text>
<text x="365.5" y="530.1" font-size="8.3" font-family="'Liberation Sans', sans-serif" text-anchor="middle" textLength="7.5" lengthAdjust="spacingAndGlyphs" fill="#111" stroke="#111" stroke-width="0.15">21</text>
<text x="390.5" y="531.8" font-size="8.3" font-family="'Liberation Sans', sans-serif" text-anchor="middle" textLength="7.5" lengthAdjust="spacingAndGlyphs" fill="#111" stroke="#111" stroke-width="0.15">24</text>
<text x="414.7" y="533.0" font-size="8.3" font-family="'Liberation Sans', sans-serif" text-anchor="middle" textLength="7.5" lengthAdjust="spacingAndGlyphs" fill="#111" stroke="#111" stroke-width="0.15">27</text>
<text x="439.4" y="535.1" font-size="8.3" font-family="'Liberation Sans', sans-serif" text-anchor="middle" textLength="7.5" lengthAdjust="spacingAndGlyphs" fill="#111" stroke="#111" stroke-width="0.15">30</text>
<text x="461.2" y="530.1" font-size="8.3" font-family="'Liberation Sans', sans-serif" text-anchor="middle" textLength="9.6" lengthAdjust="spacingAndGlyphs" fill="#111" stroke="#111" stroke-width="0.15">1.9</text>
<text x="471.4" y="522.9" font-size="8.3" font-family="'Liberation Sans', sans-serif" text-anchor="middle" textLength="9.6" lengthAdjust="spacingAndGlyphs" fill="#111" stroke="#111" stroke-width="0.15">2.9</text>
<text x="482.4" y="517.6" font-size="8.3" font-family="'Liberation Sans', sans-serif" text-anchor="middle" textLength="9.6" lengthAdjust="spacingAndGlyphs" fill="#111" stroke="#111" stroke-width="0.15">3.9</text>
<text x="493.2" y="511.8" font-size="8.3" font-family="'Liberation Sans', sans-serif" text-anchor="middle" textLength="9.6" lengthAdjust="spacingAndGlyphs" fill="#111" stroke="#111" stroke-width="0.15">4.9</text>
<text x="503.4" y="505.9" font-size="8.3" font-family="'Liberation Sans', sans-serif" text-anchor="middle" textLength="9.6" lengthAdjust="spacingAndGlyphs" fill="#111" stroke="#111" stroke-width="0.15">5.9</text>
<text x="332.5" y="399.7" font-size="11.5" font-family="'Liberation Serif', serif" textLength="168.4" lengthAdjust="spacingAndGlyphs" fill="#1a1a1a" stroke="#1a1a1a" stroke-width="0.25">Model 3 dispersion&#160; diagram (5C)</text>
<text x="325.3" y="545.0" font-size="9" font-family="'Liberation Serif', serif" textLength="94.5" lengthAdjust="spacingAndGlyphs" fill="#1a1a1a" stroke="#1a1a1a" stroke-width="0.22">Initial solid percentage (%)</text>
<text x="486.0" y="530.0" font-size="9" font-family="'Liberation Serif', serif" textLength="59.5" lengthAdjust="spacingAndGlyphs" fill="#1a1a1a" stroke="#1a1a1a" stroke-width="0.22">Repose angle (%)</text>
<text transform="translate(295.4,516.7) rotate(-90)" font-size="8.0" font-family="'Liberation Serif', serif" textLength="87.4" lengthAdjust="spacingAndGlyphs" fill="#1a1a1a" stroke="#1a1a1a" stroke-width="0.05">Flocculation dosage (g/t)</text>
<text x="76.4" y="585.8" font-size="9" font-family="'Liberation Serif', serif" textLength="92.6" lengthAdjust="spacingAndGlyphs" fill="#1a1a1a" stroke="#1a1a1a" stroke-width="0.22">Segregation categories:</text>
<rect x="180" y="579.5" width="6.7" height="6.7" fill="#008000"/>
<text x="193.1" y="585.8" font-size="9" font-family="'Liberation Serif', serif" textLength="19.6" lengthAdjust="spacingAndGlyphs" fill="#1a1a1a" stroke="#1a1a1a" stroke-width="0.22">Slow</text>
<rect x="222" y="579.5" width="6.7" height="6.7" fill="#00f02a"/>
<text x="233.8" y="585.8" font-size="9" font-family="'Liberation Serif', serif" textLength="58.5" lengthAdjust="spacingAndGlyphs" fill="#1a1a1a" stroke="#1a1a1a" stroke-width="0.22">Semi-medium</text>
<rect x="299.5" y="579.5" width="6.7" height="6.7" fill="#fdc636"/>
<text x="310.9" y="585.8" font-size="9" font-family="'Liberation Serif', serif" textLength="35.6" lengthAdjust="spacingAndGlyphs" fill="#1a1a1a" stroke="#1a1a1a" stroke-width="0.22">Medium</text>
<rect x="352.8" y="579.5" width="6.7" height="6.7" fill="#ff8000"/>
<text x="365.6" y="585.8" font-size="9" font-family="'Liberation Serif', serif" textLength="42.0" lengthAdjust="spacingAndGlyphs" fill="#1a1a1a" stroke="#1a1a1a" stroke-width="0.22">Semi-high</text>
<rect x="415.3" y="579.5" width="6.7" height="6.7" fill="#ff0000"/>
<text x="427.6" y="585.8" font-size="9" font-family="'Liberation Serif', serif" textLength="19.7" lengthAdjust="spacingAndGlyphs" fill="#1a1a1a" stroke="#1a1a1a" stroke-width="0.22">High</text>
</svg>
</body></html>
